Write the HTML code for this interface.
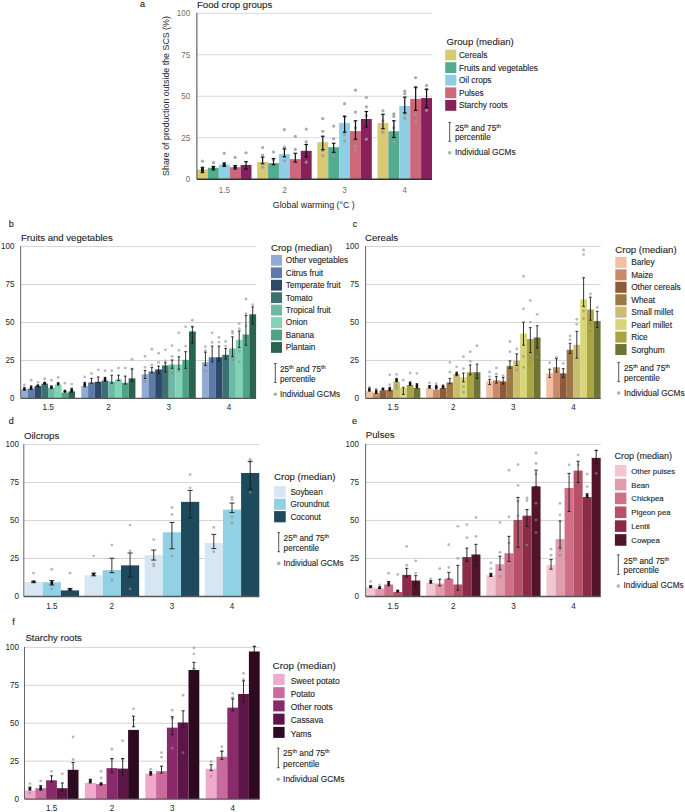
<!DOCTYPE html><html><head><meta charset="utf-8"><style>html,body{margin:0;padding:0;background:#fff;}svg{display:block;}text{font-family:"Liberation Sans",sans-serif;stroke-width:0.12px;}</style></head><body>
<svg width="685" height="812" viewBox="0 0 685 812">
<line x1="196.9" y1="137.72" x2="432" y2="137.72" stroke="#d9d9d9" stroke-width="1"/>
<line x1="196.9" y1="96.25" x2="432" y2="96.25" stroke="#d9d9d9" stroke-width="1"/>
<line x1="196.9" y1="54.78" x2="432" y2="54.78" stroke="#d9d9d9" stroke-width="1"/>
<line x1="196.9" y1="13.3" x2="432" y2="13.3" stroke="#d9d9d9" stroke-width="1"/>
<rect x="197" y="169.58" width="10.9" height="9.62" fill="#D8C974"/>
<rect x="207.9" y="167.75" width="10.9" height="11.45" fill="#52AD8E"/>
<rect x="218.8" y="164.43" width="10.9" height="14.77" fill="#8FCEE5"/>
<rect x="229.7" y="167.26" width="10.9" height="11.94" fill="#CD6779"/>
<rect x="240.6" y="164.93" width="10.9" height="14.27" fill="#88205B"/>
<rect x="257.17" y="161.95" width="10.9" height="17.25" fill="#D8C974"/>
<rect x="268.07" y="163.11" width="10.9" height="16.09" fill="#52AD8E"/>
<rect x="278.97" y="154.15" width="10.9" height="25.05" fill="#8FCEE5"/>
<rect x="289.87" y="159.13" width="10.9" height="20.07" fill="#CD6779"/>
<rect x="300.77" y="150.83" width="10.9" height="28.37" fill="#88205B"/>
<rect x="317.33" y="142.2" width="10.9" height="37" fill="#D8C974"/>
<rect x="328.23" y="147.18" width="10.9" height="32.02" fill="#52AD8E"/>
<rect x="339.13" y="122.96" width="10.9" height="56.24" fill="#8FCEE5"/>
<rect x="350.03" y="131.09" width="10.9" height="48.11" fill="#CD6779"/>
<rect x="360.93" y="118.98" width="10.9" height="60.22" fill="#88205B"/>
<rect x="377.5" y="122.96" width="10.9" height="56.24" fill="#D8C974"/>
<rect x="388.4" y="131.25" width="10.9" height="47.95" fill="#52AD8E"/>
<rect x="399.3" y="105.87" width="10.9" height="73.33" fill="#8FCEE5"/>
<rect x="410.2" y="98.9" width="10.9" height="80.3" fill="#CD6779"/>
<rect x="421.1" y="98.07" width="10.9" height="81.13" fill="#88205B"/>
<circle cx="202.45" cy="161.17" r="1.6" fill="#9a9a9a" fill-opacity="0.85"/>
<circle cx="202.45" cy="169.93" r="1.6" fill="#9a9a9a" fill-opacity="0.85"/>
<circle cx="213.35" cy="162.57" r="1.6" fill="#9a9a9a" fill-opacity="0.85"/>
<circle cx="213.35" cy="168.18" r="1.6" fill="#9a9a9a" fill-opacity="0.85"/>
<circle cx="224.25" cy="153.29" r="1.6" fill="#9a9a9a" fill-opacity="0.85"/>
<circle cx="224.25" cy="164.67" r="1.6" fill="#9a9a9a" fill-opacity="0.85"/>
<circle cx="235.15" cy="157.32" r="1.6" fill="#9a9a9a" fill-opacity="0.85"/>
<circle cx="235.15" cy="167.3" r="1.6" fill="#9a9a9a" fill-opacity="0.85"/>
<circle cx="246.05" cy="152.76" r="1.6" fill="#9a9a9a" fill-opacity="0.85"/>
<line x1="202.45" y1="167.3" x2="202.45" y2="172.56" stroke="#111" stroke-width="1.2"/>
<line x1="200.65" y1="167.3" x2="204.25" y2="167.3" stroke="#111" stroke-width="1.2"/>
<line x1="200.65" y1="172.56" x2="204.25" y2="172.56" stroke="#111" stroke-width="1.2"/>
<line x1="213.35" y1="166.43" x2="213.35" y2="169.93" stroke="#111" stroke-width="1.2"/>
<line x1="211.55" y1="166.43" x2="215.15" y2="166.43" stroke="#111" stroke-width="1.2"/>
<line x1="211.55" y1="169.93" x2="215.15" y2="169.93" stroke="#111" stroke-width="1.2"/>
<line x1="224.25" y1="162.92" x2="224.25" y2="166.43" stroke="#111" stroke-width="1.2"/>
<line x1="222.45" y1="162.92" x2="226.05" y2="162.92" stroke="#111" stroke-width="1.2"/>
<line x1="222.45" y1="166.43" x2="226.05" y2="166.43" stroke="#111" stroke-width="1.2"/>
<line x1="235.15" y1="165.55" x2="235.15" y2="169.05" stroke="#111" stroke-width="1.2"/>
<line x1="233.35" y1="165.55" x2="236.95" y2="165.55" stroke="#111" stroke-width="1.2"/>
<line x1="233.35" y1="169.05" x2="236.95" y2="169.05" stroke="#111" stroke-width="1.2"/>
<line x1="246.05" y1="161.7" x2="246.05" y2="169.05" stroke="#111" stroke-width="1.2"/>
<line x1="244.25" y1="161.7" x2="247.85" y2="161.7" stroke="#111" stroke-width="1.2"/>
<line x1="244.25" y1="169.05" x2="247.85" y2="169.05" stroke="#111" stroke-width="1.2"/>
<circle cx="262.62" cy="147.51" r="1.6" fill="#9a9a9a" fill-opacity="0.85"/>
<circle cx="262.62" cy="155.04" r="1.6" fill="#9a9a9a" fill-opacity="0.85"/>
<circle cx="262.62" cy="167.3" r="1.6" fill="#9a9a9a" fill-opacity="0.85"/>
<circle cx="273.52" cy="152.06" r="1.6" fill="#9a9a9a" fill-opacity="0.85"/>
<circle cx="273.52" cy="159.42" r="1.6" fill="#9a9a9a" fill-opacity="0.85"/>
<circle cx="284.42" cy="129.64" r="1.6" fill="#9a9a9a" fill-opacity="0.85"/>
<circle cx="284.42" cy="147.15" r="1.6" fill="#9a9a9a" fill-opacity="0.85"/>
<circle cx="284.42" cy="160.82" r="1.6" fill="#9a9a9a" fill-opacity="0.85"/>
<circle cx="295.32" cy="136.29" r="1.6" fill="#9a9a9a" fill-opacity="0.85"/>
<circle cx="295.32" cy="149.43" r="1.6" fill="#9a9a9a" fill-opacity="0.85"/>
<circle cx="306.22" cy="129.11" r="1.6" fill="#9a9a9a" fill-opacity="0.85"/>
<circle cx="306.22" cy="141.9" r="1.6" fill="#9a9a9a" fill-opacity="0.85"/>
<circle cx="306.22" cy="162.05" r="1.6" fill="#9a9a9a" fill-opacity="0.85"/>
<line x1="262.62" y1="157.14" x2="262.62" y2="163.8" stroke="#111" stroke-width="1.2"/>
<line x1="260.82" y1="157.14" x2="264.42" y2="157.14" stroke="#111" stroke-width="1.2"/>
<line x1="260.82" y1="163.8" x2="264.42" y2="163.8" stroke="#111" stroke-width="1.2"/>
<line x1="273.52" y1="158.54" x2="273.52" y2="164.67" stroke="#111" stroke-width="1.2"/>
<line x1="271.72" y1="158.54" x2="275.32" y2="158.54" stroke="#111" stroke-width="1.2"/>
<line x1="271.72" y1="164.67" x2="275.32" y2="164.67" stroke="#111" stroke-width="1.2"/>
<line x1="284.42" y1="148.91" x2="284.42" y2="156.79" stroke="#111" stroke-width="1.2"/>
<line x1="282.62" y1="148.91" x2="286.22" y2="148.91" stroke="#111" stroke-width="1.2"/>
<line x1="282.62" y1="156.79" x2="286.22" y2="156.79" stroke="#111" stroke-width="1.2"/>
<line x1="295.32" y1="153.29" x2="295.32" y2="162.05" stroke="#111" stroke-width="1.2"/>
<line x1="293.52" y1="153.29" x2="297.12" y2="153.29" stroke="#111" stroke-width="1.2"/>
<line x1="293.52" y1="162.05" x2="297.12" y2="162.05" stroke="#111" stroke-width="1.2"/>
<line x1="306.22" y1="144.53" x2="306.22" y2="156.79" stroke="#111" stroke-width="1.2"/>
<line x1="304.42" y1="144.53" x2="308.02" y2="144.53" stroke="#111" stroke-width="1.2"/>
<line x1="304.42" y1="156.79" x2="308.02" y2="156.79" stroke="#111" stroke-width="1.2"/>
<circle cx="322.78" cy="118.53" r="1.6" fill="#9a9a9a" fill-opacity="0.85"/>
<circle cx="322.78" cy="131.32" r="1.6" fill="#9a9a9a" fill-opacity="0.85"/>
<circle cx="322.78" cy="150.59" r="1.6" fill="#9a9a9a" fill-opacity="0.85"/>
<circle cx="322.78" cy="155.49" r="1.6" fill="#9a9a9a" fill-opacity="0.85"/>
<circle cx="333.68" cy="126.06" r="1.6" fill="#9a9a9a" fill-opacity="0.85"/>
<circle cx="333.68" cy="138.85" r="1.6" fill="#9a9a9a" fill-opacity="0.85"/>
<circle cx="333.68" cy="155.84" r="1.6" fill="#9a9a9a" fill-opacity="0.85"/>
<circle cx="344.58" cy="103.64" r="1.6" fill="#9a9a9a" fill-opacity="0.85"/>
<circle cx="344.58" cy="116.43" r="1.6" fill="#9a9a9a" fill-opacity="0.85"/>
<circle cx="344.58" cy="134.82" r="1.6" fill="#9a9a9a" fill-opacity="0.85"/>
<circle cx="344.58" cy="140.95" r="1.6" fill="#9a9a9a" fill-opacity="0.85"/>
<circle cx="355.48" cy="90.15" r="1.6" fill="#9a9a9a" fill-opacity="0.85"/>
<circle cx="355.48" cy="112.05" r="1.6" fill="#9a9a9a" fill-opacity="0.85"/>
<circle cx="355.48" cy="127.81" r="1.6" fill="#9a9a9a" fill-opacity="0.85"/>
<circle cx="355.48" cy="146.21" r="1.6" fill="#9a9a9a" fill-opacity="0.85"/>
<circle cx="355.48" cy="150.59" r="1.6" fill="#9a9a9a" fill-opacity="0.85"/>
<circle cx="366.38" cy="97.51" r="1.6" fill="#9a9a9a" fill-opacity="0.85"/>
<circle cx="366.38" cy="106.79" r="1.6" fill="#9a9a9a" fill-opacity="0.85"/>
<circle cx="366.38" cy="115.55" r="1.6" fill="#9a9a9a" fill-opacity="0.85"/>
<circle cx="366.38" cy="139.2" r="1.6" fill="#9a9a9a" fill-opacity="0.85"/>
<line x1="322.78" y1="136.22" x2="322.78" y2="149.71" stroke="#111" stroke-width="1.2"/>
<line x1="320.98" y1="136.22" x2="324.58" y2="136.22" stroke="#111" stroke-width="1.2"/>
<line x1="320.98" y1="149.71" x2="324.58" y2="149.71" stroke="#111" stroke-width="1.2"/>
<line x1="333.68" y1="143.23" x2="333.68" y2="152.34" stroke="#111" stroke-width="1.2"/>
<line x1="331.88" y1="143.23" x2="335.48" y2="143.23" stroke="#111" stroke-width="1.2"/>
<line x1="331.88" y1="152.34" x2="335.48" y2="152.34" stroke="#111" stroke-width="1.2"/>
<line x1="344.58" y1="116.43" x2="344.58" y2="132.19" stroke="#111" stroke-width="1.2"/>
<line x1="342.78" y1="116.43" x2="346.38" y2="116.43" stroke="#111" stroke-width="1.2"/>
<line x1="342.78" y1="132.19" x2="346.38" y2="132.19" stroke="#111" stroke-width="1.2"/>
<line x1="355.48" y1="120.81" x2="355.48" y2="139.2" stroke="#111" stroke-width="1.2"/>
<line x1="353.68" y1="120.81" x2="357.28" y2="120.81" stroke="#111" stroke-width="1.2"/>
<line x1="353.68" y1="139.2" x2="357.28" y2="139.2" stroke="#111" stroke-width="1.2"/>
<line x1="366.38" y1="111.52" x2="366.38" y2="126.94" stroke="#111" stroke-width="1.2"/>
<line x1="364.58" y1="111.52" x2="368.18" y2="111.52" stroke="#111" stroke-width="1.2"/>
<line x1="364.58" y1="126.94" x2="368.18" y2="126.94" stroke="#111" stroke-width="1.2"/>
<circle cx="382.95" cy="110.82" r="1.6" fill="#9a9a9a" fill-opacity="0.85"/>
<circle cx="382.95" cy="120.81" r="1.6" fill="#9a9a9a" fill-opacity="0.85"/>
<circle cx="382.95" cy="132.19" r="1.6" fill="#9a9a9a" fill-opacity="0.85"/>
<circle cx="393.85" cy="113.8" r="1.6" fill="#9a9a9a" fill-opacity="0.85"/>
<circle cx="393.85" cy="116.43" r="1.6" fill="#9a9a9a" fill-opacity="0.85"/>
<circle cx="393.85" cy="127.81" r="1.6" fill="#9a9a9a" fill-opacity="0.85"/>
<circle cx="393.85" cy="141.83" r="1.6" fill="#9a9a9a" fill-opacity="0.85"/>
<circle cx="404.75" cy="91.02" r="1.6" fill="#9a9a9a" fill-opacity="0.85"/>
<circle cx="404.75" cy="93.65" r="1.6" fill="#9a9a9a" fill-opacity="0.85"/>
<circle cx="404.75" cy="113.8" r="1.6" fill="#9a9a9a" fill-opacity="0.85"/>
<circle cx="404.75" cy="118.18" r="1.6" fill="#9a9a9a" fill-opacity="0.85"/>
<circle cx="415.65" cy="77.53" r="1.6" fill="#9a9a9a" fill-opacity="0.85"/>
<circle cx="415.65" cy="87.52" r="1.6" fill="#9a9a9a" fill-opacity="0.85"/>
<circle cx="415.65" cy="114.67" r="1.6" fill="#9a9a9a" fill-opacity="0.85"/>
<circle cx="415.65" cy="121.68" r="1.6" fill="#9a9a9a" fill-opacity="0.85"/>
<circle cx="426.55" cy="85.42" r="1.6" fill="#9a9a9a" fill-opacity="0.85"/>
<circle cx="426.55" cy="89.27" r="1.6" fill="#9a9a9a" fill-opacity="0.85"/>
<circle cx="426.55" cy="110.29" r="1.6" fill="#9a9a9a" fill-opacity="0.85"/>
<line x1="382.95" y1="114.32" x2="382.95" y2="128.69" stroke="#111" stroke-width="1.2"/>
<line x1="381.15" y1="114.32" x2="384.75" y2="114.32" stroke="#111" stroke-width="1.2"/>
<line x1="381.15" y1="128.69" x2="384.75" y2="128.69" stroke="#111" stroke-width="1.2"/>
<line x1="393.85" y1="120.81" x2="393.85" y2="137.45" stroke="#111" stroke-width="1.2"/>
<line x1="392.05" y1="120.81" x2="395.65" y2="120.81" stroke="#111" stroke-width="1.2"/>
<line x1="392.05" y1="137.45" x2="395.65" y2="137.45" stroke="#111" stroke-width="1.2"/>
<line x1="404.75" y1="97.15" x2="404.75" y2="112.92" stroke="#111" stroke-width="1.2"/>
<line x1="402.95" y1="97.15" x2="406.55" y2="97.15" stroke="#111" stroke-width="1.2"/>
<line x1="402.95" y1="112.92" x2="406.55" y2="112.92" stroke="#111" stroke-width="1.2"/>
<line x1="415.65" y1="87.17" x2="415.65" y2="110.29" stroke="#111" stroke-width="1.2"/>
<line x1="413.85" y1="87.17" x2="417.45" y2="87.17" stroke="#111" stroke-width="1.2"/>
<line x1="413.85" y1="110.29" x2="417.45" y2="110.29" stroke="#111" stroke-width="1.2"/>
<line x1="426.55" y1="89.27" x2="426.55" y2="107.67" stroke="#111" stroke-width="1.2"/>
<line x1="424.75" y1="89.27" x2="428.35" y2="89.27" stroke="#111" stroke-width="1.2"/>
<line x1="424.75" y1="107.67" x2="428.35" y2="107.67" stroke="#111" stroke-width="1.2"/>
<line x1="196.9" y1="12.8" x2="196.9" y2="179.2" stroke="#444" stroke-width="1"/>
<line x1="196.9" y1="179.2" x2="432" y2="179.2" stroke="#333" stroke-width="1.5"/>
<text transform="translate(190.2 182.2) scale(0.9 1)" font-size="9" fill="#707070" text-anchor="end">0</text>
<text transform="translate(190.2 140.72) scale(0.9 1)" font-size="9" fill="#707070" text-anchor="end">25</text>
<text transform="translate(190.2 99.25) scale(0.9 1)" font-size="9" fill="#707070" text-anchor="end">50</text>
<text transform="translate(190.2 57.78) scale(0.9 1)" font-size="9" fill="#707070" text-anchor="end">75</text>
<text transform="translate(190.2 16.3) scale(0.9 1)" font-size="9" fill="#707070" text-anchor="end">100</text>
<text transform="translate(224.25 192.6) scale(0.9 1)" font-size="9" fill="#707070" text-anchor="middle">1.5</text>
<text transform="translate(284.42 192.6) scale(0.9 1)" font-size="9" fill="#707070" text-anchor="middle">2</text>
<text transform="translate(344.58 192.6) scale(0.9 1)" font-size="9" fill="#707070" text-anchor="middle">3</text>
<text transform="translate(404.75 192.6) scale(0.9 1)" font-size="9" fill="#707070" text-anchor="middle">4</text>
<text x="140" y="6.5" font-size="9" fill="#222" stroke="#222" text-anchor="start">a</text>
<text x="197" y="7.6" font-size="9.6" fill="#262626" stroke="#262626" text-anchor="start">Food crop groups</text>
<text x="446.6" y="45.4" font-size="9.6" fill="#262626" stroke="#262626" text-anchor="start">Group (median)</text>
<rect x="445.2" y="49.6" width="11.1" height="10.8" fill="#D8C974"/>
<text x="458.9" y="58" font-size="8.27" fill="#262626" stroke="#262626" text-anchor="start">Cereals</text>
<rect x="445.2" y="62.2" width="11.1" height="10.8" fill="#52AD8E"/>
<text x="458.9" y="70.6" font-size="8.27" fill="#262626" stroke="#262626" text-anchor="start">Fruits and vegetables</text>
<rect x="445.2" y="74.8" width="11.1" height="10.8" fill="#8FCEE5"/>
<text x="458.9" y="83.2" font-size="8.27" fill="#262626" stroke="#262626" text-anchor="start">Oil crops</text>
<rect x="445.2" y="87.4" width="11.1" height="10.8" fill="#CD6779"/>
<text x="458.9" y="95.8" font-size="8.27" fill="#262626" stroke="#262626" text-anchor="start">Pulses</text>
<rect x="445.2" y="100" width="11.1" height="10.8" fill="#88205B"/>
<text x="458.9" y="108.4" font-size="8.27" fill="#262626" stroke="#262626" text-anchor="start">Starchy roots</text>
<line x1="449.7" y1="122.5" x2="449.7" y2="141.3" stroke="#555" stroke-width="1"/>
<line x1="448.4" y1="122.5" x2="451" y2="122.5" stroke="#555" stroke-width="1"/>
<line x1="448.4" y1="141.3" x2="451" y2="141.3" stroke="#555" stroke-width="1"/>
<text x="454.9" y="130.7" font-size="8.27" fill="#262626" stroke="#262626">25<tspan font-size="5.46" dy="-3.2">th</tspan><tspan dy="3.2"> and 75</tspan><tspan font-size="5.46" dy="-3.2">th</tspan></text>
<text x="454.9" y="140.2" font-size="8.27" fill="#262626" stroke="#262626" text-anchor="start">percentile</text>
<circle cx="449.7" cy="152.8" r="1.8" fill="#b0b0b0"/>
<text x="454.9" y="155.2" font-size="8.27" fill="#262626" stroke="#262626" text-anchor="start">Individual GCMs</text>
<line x1="20.7" y1="360.45" x2="256.1" y2="360.45" stroke="#d4d4d4" stroke-width="1"/>
<line x1="20.7" y1="322.5" x2="256.1" y2="322.5" stroke="#d4d4d4" stroke-width="1"/>
<line x1="20.7" y1="284.55" x2="256.1" y2="284.55" stroke="#d4d4d4" stroke-width="1"/>
<line x1="20.7" y1="246.6" x2="256.1" y2="246.6" stroke="#d4d4d4" stroke-width="1"/>
<rect x="21" y="389.14" width="6.76" height="9.26" fill="#91ABD6"/>
<rect x="27.76" y="388.53" width="6.76" height="9.87" fill="#5E7BA8"/>
<rect x="34.52" y="386.1" width="6.76" height="12.3" fill="#2D4A6A"/>
<rect x="41.28" y="383.68" width="6.76" height="14.72" fill="#3D7070"/>
<rect x="48.04" y="387.77" width="6.76" height="10.63" fill="#6CB9A5"/>
<rect x="54.8" y="384.59" width="6.76" height="13.81" fill="#80D4B4"/>
<rect x="61.56" y="392.63" width="6.76" height="5.77" fill="#4FA286"/>
<rect x="68.32" y="391.42" width="6.76" height="6.98" fill="#2A6450"/>
<rect x="81.34" y="385.95" width="6.76" height="12.45" fill="#91ABD6"/>
<rect x="88.1" y="382.46" width="6.76" height="15.94" fill="#5E7BA8"/>
<rect x="94.86" y="381.85" width="6.76" height="16.55" fill="#2D4A6A"/>
<rect x="101.62" y="380.64" width="6.76" height="17.76" fill="#3D7070"/>
<rect x="108.38" y="381.55" width="6.76" height="16.85" fill="#6CB9A5"/>
<rect x="115.14" y="379.27" width="6.76" height="19.13" fill="#80D4B4"/>
<rect x="121.9" y="382.76" width="6.76" height="15.64" fill="#4FA286"/>
<rect x="128.66" y="378.36" width="6.76" height="20.04" fill="#2A6450"/>
<rect x="141.68" y="374.26" width="6.76" height="24.14" fill="#91ABD6"/>
<rect x="148.44" y="371.53" width="6.76" height="26.87" fill="#5E7BA8"/>
<rect x="155.2" y="369.41" width="6.76" height="28.99" fill="#2D4A6A"/>
<rect x="161.96" y="365.46" width="6.76" height="32.94" fill="#3D7070"/>
<rect x="168.72" y="364.55" width="6.76" height="33.85" fill="#6CB9A5"/>
<rect x="175.48" y="364.55" width="6.76" height="33.85" fill="#80D4B4"/>
<rect x="182.24" y="359.84" width="6.76" height="38.56" fill="#4FA286"/>
<rect x="189" y="331.46" width="6.76" height="66.94" fill="#2A6450"/>
<rect x="202.02" y="362.27" width="6.76" height="36.13" fill="#91ABD6"/>
<rect x="208.78" y="357.26" width="6.76" height="41.14" fill="#5E7BA8"/>
<rect x="215.54" y="357.26" width="6.76" height="41.14" fill="#2D4A6A"/>
<rect x="222.3" y="354.83" width="6.76" height="43.57" fill="#3D7070"/>
<rect x="229.06" y="348.46" width="6.76" height="49.94" fill="#6CB9A5"/>
<rect x="235.82" y="339.81" width="6.76" height="58.59" fill="#80D4B4"/>
<rect x="242.58" y="334.49" width="6.76" height="63.91" fill="#4FA286"/>
<rect x="249.34" y="314.3" width="6.76" height="84.1" fill="#2A6450"/>
<circle cx="24.38" cy="385" r="1.4" fill="#8a8a8a" fill-opacity="0.6"/>
<circle cx="31.14" cy="380.2" r="1.4" fill="#8a8a8a" fill-opacity="0.6"/>
<circle cx="37.9" cy="382.33" r="1.4" fill="#8a8a8a" fill-opacity="0.6"/>
<circle cx="44.66" cy="378.77" r="1.4" fill="#8a8a8a" fill-opacity="0.6"/>
<circle cx="51.42" cy="380.2" r="1.4" fill="#8a8a8a" fill-opacity="0.6"/>
<circle cx="58.18" cy="377.52" r="1.4" fill="#8a8a8a" fill-opacity="0.6"/>
<circle cx="64.94" cy="383.22" r="1.4" fill="#8a8a8a" fill-opacity="0.6"/>
<circle cx="71.7" cy="384.11" r="1.4" fill="#8a8a8a" fill-opacity="0.6"/>
<line x1="24.38" y1="387.68" x2="24.38" y2="390.35" stroke="#1a1a1a" stroke-width="0.9"/>
<line x1="23.08" y1="387.68" x2="25.68" y2="387.68" stroke="#1a1a1a" stroke-width="0.9"/>
<line x1="23.08" y1="390.35" x2="25.68" y2="390.35" stroke="#1a1a1a" stroke-width="0.9"/>
<ellipse cx="24.38" cy="389.01" rx="1.4" ry="1.4" fill="#111"/>
<line x1="31.14" y1="385.89" x2="31.14" y2="389.46" stroke="#1a1a1a" stroke-width="0.9"/>
<line x1="29.84" y1="385.89" x2="32.44" y2="385.89" stroke="#1a1a1a" stroke-width="0.9"/>
<line x1="29.84" y1="389.46" x2="32.44" y2="389.46" stroke="#1a1a1a" stroke-width="0.9"/>
<ellipse cx="31.14" cy="387.68" rx="1.4" ry="1.78" fill="#111"/>
<line x1="37.9" y1="385" x2="37.9" y2="386.79" stroke="#1a1a1a" stroke-width="0.9"/>
<line x1="36.6" y1="385" x2="39.2" y2="385" stroke="#1a1a1a" stroke-width="0.9"/>
<line x1="36.6" y1="386.79" x2="39.2" y2="386.79" stroke="#1a1a1a" stroke-width="0.9"/>
<ellipse cx="37.9" cy="385.89" rx="1.4" ry="1.4" fill="#111"/>
<line x1="44.66" y1="382.33" x2="44.66" y2="384.11" stroke="#1a1a1a" stroke-width="0.9"/>
<line x1="43.36" y1="382.33" x2="45.96" y2="382.33" stroke="#1a1a1a" stroke-width="0.9"/>
<line x1="43.36" y1="384.11" x2="45.96" y2="384.11" stroke="#1a1a1a" stroke-width="0.9"/>
<ellipse cx="44.66" cy="383.22" rx="1.4" ry="1.4" fill="#111"/>
<line x1="51.42" y1="385.89" x2="51.42" y2="388.57" stroke="#1a1a1a" stroke-width="0.9"/>
<line x1="50.12" y1="385.89" x2="52.72" y2="385.89" stroke="#1a1a1a" stroke-width="0.9"/>
<line x1="50.12" y1="388.57" x2="52.72" y2="388.57" stroke="#1a1a1a" stroke-width="0.9"/>
<ellipse cx="51.42" cy="387.23" rx="1.4" ry="1.4" fill="#111"/>
<line x1="58.18" y1="382.69" x2="58.18" y2="385" stroke="#1a1a1a" stroke-width="0.9"/>
<line x1="56.88" y1="382.69" x2="59.48" y2="382.69" stroke="#1a1a1a" stroke-width="0.9"/>
<line x1="56.88" y1="385" x2="59.48" y2="385" stroke="#1a1a1a" stroke-width="0.9"/>
<ellipse cx="58.18" cy="383.85" rx="1.4" ry="1.4" fill="#111"/>
<line x1="64.94" y1="390.35" x2="64.94" y2="392.13" stroke="#1a1a1a" stroke-width="0.9"/>
<line x1="63.64" y1="390.35" x2="66.24" y2="390.35" stroke="#1a1a1a" stroke-width="0.9"/>
<line x1="63.64" y1="392.13" x2="66.24" y2="392.13" stroke="#1a1a1a" stroke-width="0.9"/>
<ellipse cx="64.94" cy="391.24" rx="1.4" ry="1.4" fill="#111"/>
<line x1="71.7" y1="388.21" x2="71.7" y2="392.13" stroke="#1a1a1a" stroke-width="0.9"/>
<line x1="70.4" y1="388.21" x2="73" y2="388.21" stroke="#1a1a1a" stroke-width="0.9"/>
<line x1="70.4" y1="392.13" x2="73" y2="392.13" stroke="#1a1a1a" stroke-width="0.9"/>
<ellipse cx="71.7" cy="390.17" rx="1.4" ry="1.96" fill="#111"/>
<circle cx="84.72" cy="376.99" r="1.4" fill="#8a8a8a" fill-opacity="0.6"/>
<circle cx="91.48" cy="373.43" r="1.4" fill="#8a8a8a" fill-opacity="0.6"/>
<circle cx="98.24" cy="369.87" r="1.4" fill="#8a8a8a" fill-opacity="0.6"/>
<circle cx="105" cy="370.76" r="1.4" fill="#8a8a8a" fill-opacity="0.6"/>
<circle cx="111.76" cy="370.76" r="1.4" fill="#8a8a8a" fill-opacity="0.6"/>
<circle cx="118.52" cy="368.09" r="1.4" fill="#8a8a8a" fill-opacity="0.6"/>
<circle cx="125.28" cy="368.09" r="1.4" fill="#8a8a8a" fill-opacity="0.6"/>
<circle cx="132.04" cy="359.18" r="1.4" fill="#8a8a8a" fill-opacity="0.6"/>
<circle cx="132.04" cy="368.98" r="1.4" fill="#8a8a8a" fill-opacity="0.6"/>
<line x1="84.72" y1="382.33" x2="84.72" y2="386.79" stroke="#1a1a1a" stroke-width="0.9"/>
<line x1="83.42" y1="382.33" x2="86.02" y2="382.33" stroke="#1a1a1a" stroke-width="0.9"/>
<line x1="83.42" y1="386.79" x2="86.02" y2="386.79" stroke="#1a1a1a" stroke-width="0.9"/>
<ellipse cx="84.72" cy="384.56" rx="1.4" ry="2.23" fill="#111"/>
<line x1="91.48" y1="378.41" x2="91.48" y2="383.22" stroke="#1a1a1a" stroke-width="0.9"/>
<line x1="90.18" y1="378.41" x2="92.78" y2="378.41" stroke="#1a1a1a" stroke-width="0.9"/>
<line x1="90.18" y1="383.22" x2="92.78" y2="383.22" stroke="#1a1a1a" stroke-width="0.9"/>
<line x1="98.24" y1="376.99" x2="98.24" y2="382.33" stroke="#1a1a1a" stroke-width="0.9"/>
<line x1="96.94" y1="376.99" x2="99.54" y2="376.99" stroke="#1a1a1a" stroke-width="0.9"/>
<line x1="96.94" y1="382.33" x2="99.54" y2="382.33" stroke="#1a1a1a" stroke-width="0.9"/>
<line x1="105" y1="377.35" x2="105" y2="381.44" stroke="#1a1a1a" stroke-width="0.9"/>
<line x1="103.7" y1="377.35" x2="106.3" y2="377.35" stroke="#1a1a1a" stroke-width="0.9"/>
<line x1="103.7" y1="381.44" x2="106.3" y2="381.44" stroke="#1a1a1a" stroke-width="0.9"/>
<ellipse cx="105" cy="379.39" rx="1.4" ry="2.05" fill="#111"/>
<line x1="111.76" y1="375.21" x2="111.76" y2="383.22" stroke="#1a1a1a" stroke-width="0.9"/>
<line x1="110.46" y1="375.21" x2="113.06" y2="375.21" stroke="#1a1a1a" stroke-width="0.9"/>
<line x1="110.46" y1="383.22" x2="113.06" y2="383.22" stroke="#1a1a1a" stroke-width="0.9"/>
<line x1="118.52" y1="375.21" x2="118.52" y2="380.55" stroke="#1a1a1a" stroke-width="0.9"/>
<line x1="117.22" y1="375.21" x2="119.82" y2="375.21" stroke="#1a1a1a" stroke-width="0.9"/>
<line x1="117.22" y1="380.55" x2="119.82" y2="380.55" stroke="#1a1a1a" stroke-width="0.9"/>
<line x1="125.28" y1="376.1" x2="125.28" y2="384.11" stroke="#1a1a1a" stroke-width="0.9"/>
<line x1="123.98" y1="376.1" x2="126.58" y2="376.1" stroke="#1a1a1a" stroke-width="0.9"/>
<line x1="123.98" y1="384.11" x2="126.58" y2="384.11" stroke="#1a1a1a" stroke-width="0.9"/>
<line x1="132.04" y1="368.98" x2="132.04" y2="381.44" stroke="#1a1a1a" stroke-width="0.9"/>
<line x1="130.74" y1="368.98" x2="133.34" y2="368.98" stroke="#1a1a1a" stroke-width="0.9"/>
<line x1="130.74" y1="381.44" x2="133.34" y2="381.44" stroke="#1a1a1a" stroke-width="0.9"/>
<circle cx="145.06" cy="356.28" r="1.4" fill="#8a8a8a" fill-opacity="0.6"/>
<circle cx="145.06" cy="367.38" r="1.4" fill="#8a8a8a" fill-opacity="0.6"/>
<circle cx="145.06" cy="381.24" r="1.4" fill="#8a8a8a" fill-opacity="0.6"/>
<circle cx="151.82" cy="349.26" r="1.4" fill="#8a8a8a" fill-opacity="0.6"/>
<circle cx="151.82" cy="364.97" r="1.4" fill="#8a8a8a" fill-opacity="0.6"/>
<circle cx="158.58" cy="353.14" r="1.4" fill="#8a8a8a" fill-opacity="0.6"/>
<circle cx="158.58" cy="362.38" r="1.4" fill="#8a8a8a" fill-opacity="0.6"/>
<circle cx="165.34" cy="349.82" r="1.4" fill="#8a8a8a" fill-opacity="0.6"/>
<circle cx="165.34" cy="360.91" r="1.4" fill="#8a8a8a" fill-opacity="0.6"/>
<circle cx="172.1" cy="345.56" r="1.4" fill="#8a8a8a" fill-opacity="0.6"/>
<circle cx="172.1" cy="356.28" r="1.4" fill="#8a8a8a" fill-opacity="0.6"/>
<circle cx="172.1" cy="372.92" r="1.4" fill="#8a8a8a" fill-opacity="0.6"/>
<circle cx="178.86" cy="332.81" r="1.4" fill="#8a8a8a" fill-opacity="0.6"/>
<circle cx="178.86" cy="350.37" r="1.4" fill="#8a8a8a" fill-opacity="0.6"/>
<circle cx="178.86" cy="371.07" r="1.4" fill="#8a8a8a" fill-opacity="0.6"/>
<circle cx="185.62" cy="326.71" r="1.4" fill="#8a8a8a" fill-opacity="0.6"/>
<circle cx="185.62" cy="346.12" r="1.4" fill="#8a8a8a" fill-opacity="0.6"/>
<circle cx="185.62" cy="373.84" r="1.4" fill="#8a8a8a" fill-opacity="0.6"/>
<circle cx="192.38" cy="320.24" r="1.4" fill="#8a8a8a" fill-opacity="0.6"/>
<circle cx="192.38" cy="326.71" r="1.4" fill="#8a8a8a" fill-opacity="0.6"/>
<line x1="145.06" y1="370.52" x2="145.06" y2="378.47" stroke="#1a1a1a" stroke-width="0.9"/>
<line x1="143.76" y1="370.52" x2="146.36" y2="370.52" stroke="#1a1a1a" stroke-width="0.9"/>
<line x1="143.76" y1="378.47" x2="146.36" y2="378.47" stroke="#1a1a1a" stroke-width="0.9"/>
<line x1="151.82" y1="367.38" x2="151.82" y2="372.92" stroke="#1a1a1a" stroke-width="0.9"/>
<line x1="150.52" y1="367.38" x2="153.12" y2="367.38" stroke="#1a1a1a" stroke-width="0.9"/>
<line x1="150.52" y1="372.92" x2="153.12" y2="372.92" stroke="#1a1a1a" stroke-width="0.9"/>
<line x1="158.58" y1="366.08" x2="158.58" y2="373.48" stroke="#1a1a1a" stroke-width="0.9"/>
<line x1="157.28" y1="366.08" x2="159.88" y2="366.08" stroke="#1a1a1a" stroke-width="0.9"/>
<line x1="157.28" y1="373.48" x2="159.88" y2="373.48" stroke="#1a1a1a" stroke-width="0.9"/>
<line x1="165.34" y1="362.75" x2="165.34" y2="372" stroke="#1a1a1a" stroke-width="0.9"/>
<line x1="164.04" y1="362.75" x2="166.64" y2="362.75" stroke="#1a1a1a" stroke-width="0.9"/>
<line x1="164.04" y1="372" x2="166.64" y2="372" stroke="#1a1a1a" stroke-width="0.9"/>
<line x1="172.1" y1="359.98" x2="172.1" y2="368.3" stroke="#1a1a1a" stroke-width="0.9"/>
<line x1="170.8" y1="359.98" x2="173.4" y2="359.98" stroke="#1a1a1a" stroke-width="0.9"/>
<line x1="170.8" y1="368.3" x2="173.4" y2="368.3" stroke="#1a1a1a" stroke-width="0.9"/>
<line x1="178.86" y1="356.84" x2="178.86" y2="369.22" stroke="#1a1a1a" stroke-width="0.9"/>
<line x1="177.56" y1="356.84" x2="180.16" y2="356.84" stroke="#1a1a1a" stroke-width="0.9"/>
<line x1="177.56" y1="369.22" x2="180.16" y2="369.22" stroke="#1a1a1a" stroke-width="0.9"/>
<line x1="185.62" y1="351.66" x2="185.62" y2="368.3" stroke="#1a1a1a" stroke-width="0.9"/>
<line x1="184.32" y1="351.66" x2="186.92" y2="351.66" stroke="#1a1a1a" stroke-width="0.9"/>
<line x1="184.32" y1="368.3" x2="186.92" y2="368.3" stroke="#1a1a1a" stroke-width="0.9"/>
<line x1="192.38" y1="326.71" x2="192.38" y2="343.35" stroke="#1a1a1a" stroke-width="0.9"/>
<line x1="191.08" y1="326.71" x2="193.68" y2="326.71" stroke="#1a1a1a" stroke-width="0.9"/>
<line x1="191.08" y1="343.35" x2="193.68" y2="343.35" stroke="#1a1a1a" stroke-width="0.9"/>
<circle cx="205.4" cy="346.67" r="1.4" fill="#8a8a8a" fill-opacity="0.6"/>
<circle cx="205.4" cy="350.74" r="1.4" fill="#8a8a8a" fill-opacity="0.6"/>
<circle cx="205.4" cy="371.07" r="1.4" fill="#8a8a8a" fill-opacity="0.6"/>
<circle cx="212.16" cy="332.81" r="1.4" fill="#8a8a8a" fill-opacity="0.6"/>
<circle cx="212.16" cy="342.42" r="1.4" fill="#8a8a8a" fill-opacity="0.6"/>
<circle cx="218.92" cy="337.43" r="1.4" fill="#8a8a8a" fill-opacity="0.6"/>
<circle cx="218.92" cy="342.05" r="1.4" fill="#8a8a8a" fill-opacity="0.6"/>
<circle cx="225.68" cy="341.5" r="1.4" fill="#8a8a8a" fill-opacity="0.6"/>
<circle cx="225.68" cy="346.12" r="1.4" fill="#8a8a8a" fill-opacity="0.6"/>
<circle cx="232.44" cy="331.33" r="1.4" fill="#8a8a8a" fill-opacity="0.6"/>
<circle cx="232.44" cy="333.18" r="1.4" fill="#8a8a8a" fill-opacity="0.6"/>
<circle cx="232.44" cy="360.35" r="1.4" fill="#8a8a8a" fill-opacity="0.6"/>
<circle cx="239.2" cy="323.57" r="1.4" fill="#8a8a8a" fill-opacity="0.6"/>
<circle cx="239.2" cy="328.56" r="1.4" fill="#8a8a8a" fill-opacity="0.6"/>
<circle cx="239.2" cy="351.29" r="1.4" fill="#8a8a8a" fill-opacity="0.6"/>
<circle cx="239.2" cy="361.83" r="1.4" fill="#8a8a8a" fill-opacity="0.6"/>
<circle cx="245.96" cy="298.98" r="1.4" fill="#8a8a8a" fill-opacity="0.6"/>
<circle cx="245.96" cy="313.77" r="1.4" fill="#8a8a8a" fill-opacity="0.6"/>
<circle cx="245.96" cy="325.79" r="1.4" fill="#8a8a8a" fill-opacity="0.6"/>
<circle cx="252.72" cy="304.53" r="1.4" fill="#8a8a8a" fill-opacity="0.6"/>
<line x1="205.4" y1="352.22" x2="205.4" y2="365.53" stroke="#1a1a1a" stroke-width="0.9"/>
<line x1="204.1" y1="352.22" x2="206.7" y2="352.22" stroke="#1a1a1a" stroke-width="0.9"/>
<line x1="204.1" y1="365.53" x2="206.7" y2="365.53" stroke="#1a1a1a" stroke-width="0.9"/>
<line x1="212.16" y1="346.12" x2="212.16" y2="361.83" stroke="#1a1a1a" stroke-width="0.9"/>
<line x1="210.86" y1="346.12" x2="213.46" y2="346.12" stroke="#1a1a1a" stroke-width="0.9"/>
<line x1="210.86" y1="361.83" x2="213.46" y2="361.83" stroke="#1a1a1a" stroke-width="0.9"/>
<line x1="218.92" y1="346.12" x2="218.92" y2="360.91" stroke="#1a1a1a" stroke-width="0.9"/>
<line x1="217.62" y1="346.12" x2="220.22" y2="346.12" stroke="#1a1a1a" stroke-width="0.9"/>
<line x1="217.62" y1="360.91" x2="220.22" y2="360.91" stroke="#1a1a1a" stroke-width="0.9"/>
<line x1="225.68" y1="348.52" x2="225.68" y2="359.06" stroke="#1a1a1a" stroke-width="0.9"/>
<line x1="224.38" y1="348.52" x2="226.98" y2="348.52" stroke="#1a1a1a" stroke-width="0.9"/>
<line x1="224.38" y1="359.06" x2="226.98" y2="359.06" stroke="#1a1a1a" stroke-width="0.9"/>
<line x1="232.44" y1="336.88" x2="232.44" y2="356.84" stroke="#1a1a1a" stroke-width="0.9"/>
<line x1="231.14" y1="336.88" x2="233.74" y2="336.88" stroke="#1a1a1a" stroke-width="0.9"/>
<line x1="231.14" y1="356.84" x2="233.74" y2="356.84" stroke="#1a1a1a" stroke-width="0.9"/>
<line x1="239.2" y1="330.96" x2="239.2" y2="347.6" stroke="#1a1a1a" stroke-width="0.9"/>
<line x1="237.9" y1="330.96" x2="240.5" y2="330.96" stroke="#1a1a1a" stroke-width="0.9"/>
<line x1="237.9" y1="347.6" x2="240.5" y2="347.6" stroke="#1a1a1a" stroke-width="0.9"/>
<line x1="245.96" y1="315.62" x2="245.96" y2="345.19" stroke="#1a1a1a" stroke-width="0.9"/>
<line x1="244.66" y1="315.62" x2="247.26" y2="315.62" stroke="#1a1a1a" stroke-width="0.9"/>
<line x1="244.66" y1="345.19" x2="247.26" y2="345.19" stroke="#1a1a1a" stroke-width="0.9"/>
<line x1="252.72" y1="306.93" x2="252.72" y2="323.94" stroke="#1a1a1a" stroke-width="0.9"/>
<line x1="251.42" y1="306.93" x2="254.02" y2="306.93" stroke="#1a1a1a" stroke-width="0.9"/>
<line x1="251.42" y1="323.94" x2="254.02" y2="323.94" stroke="#1a1a1a" stroke-width="0.9"/>
<line x1="20.7" y1="246.1" x2="20.7" y2="398.4" stroke="#666" stroke-width="1"/>
<line x1="20.7" y1="398.4" x2="256.1" y2="398.4" stroke="#555" stroke-width="1.3"/>
<text transform="translate(14.4 400.9) scale(0.9 1)" font-size="9" fill="#262626" text-anchor="end">0</text>
<text transform="translate(14.4 362.95) scale(0.9 1)" font-size="9" fill="#262626" text-anchor="end">25</text>
<text transform="translate(14.4 325) scale(0.9 1)" font-size="9" fill="#262626" text-anchor="end">50</text>
<text transform="translate(14.4 287.05) scale(0.9 1)" font-size="9" fill="#262626" text-anchor="end">75</text>
<text transform="translate(14.4 249.1) scale(0.9 1)" font-size="9" fill="#262626" text-anchor="end">100</text>
<text transform="translate(48.04 410.4) scale(0.9 1)" font-size="9" fill="#262626" text-anchor="middle">1.5</text>
<text transform="translate(108.38 410.4) scale(0.9 1)" font-size="9" fill="#262626" text-anchor="middle">2</text>
<text transform="translate(168.72 410.4) scale(0.9 1)" font-size="9" fill="#262626" text-anchor="middle">3</text>
<text transform="translate(229.06 410.4) scale(0.9 1)" font-size="9" fill="#262626" text-anchor="middle">4</text>
<text x="8.8" y="226.9" font-size="9" fill="#222" stroke="#222" text-anchor="start">b</text>
<text x="21" y="240.9" font-size="9.6" fill="#262626" stroke="#262626" text-anchor="start">Fruits and vegetables</text>
<text x="271" y="251.4" font-size="9.6" fill="#262626" stroke="#262626" text-anchor="start">Crop (median)</text>
<rect x="271" y="254.9" width="11" height="10.8" fill="#91ABD6"/>
<text x="285.8" y="263.2" font-size="8.2" fill="#262626" stroke="#262626" text-anchor="start">Other vegetables</text>
<rect x="271" y="267.35" width="11" height="10.8" fill="#5E7BA8"/>
<text x="285.8" y="275.65" font-size="8.2" fill="#262626" stroke="#262626" text-anchor="start">Citrus fruit</text>
<rect x="271" y="279.8" width="11" height="10.8" fill="#2D4A6A"/>
<text x="285.8" y="288.1" font-size="8.2" fill="#262626" stroke="#262626" text-anchor="start">Temperate fruit</text>
<rect x="271" y="292.25" width="11" height="10.8" fill="#3D7070"/>
<text x="285.8" y="300.55" font-size="8.2" fill="#262626" stroke="#262626" text-anchor="start">Tomato</text>
<rect x="271" y="304.7" width="11" height="10.8" fill="#6CB9A5"/>
<text x="285.8" y="313" font-size="8.2" fill="#262626" stroke="#262626" text-anchor="start">Tropical fruit</text>
<rect x="271" y="317.15" width="11" height="10.8" fill="#80D4B4"/>
<text x="285.8" y="325.45" font-size="8.2" fill="#262626" stroke="#262626" text-anchor="start">Onion</text>
<rect x="271" y="329.6" width="11" height="10.8" fill="#4FA286"/>
<text x="285.8" y="337.9" font-size="8.2" fill="#262626" stroke="#262626" text-anchor="start">Banana</text>
<rect x="271" y="342.05" width="11" height="10.8" fill="#2A6450"/>
<text x="285.8" y="350.35" font-size="8.2" fill="#262626" stroke="#262626" text-anchor="start">Plantain</text>
<line x1="275.3" y1="363.5" x2="275.3" y2="382.6" stroke="#555" stroke-width="1"/>
<line x1="274" y1="363.5" x2="276.6" y2="363.5" stroke="#555" stroke-width="1"/>
<line x1="274" y1="382.6" x2="276.6" y2="382.6" stroke="#555" stroke-width="1"/>
<text x="280" y="371.7" font-size="8.2" fill="#262626" stroke="#262626">25<tspan font-size="5.41" dy="-3.2">th</tspan><tspan dy="3.2"> and 75</tspan><tspan font-size="5.41" dy="-3.2">th</tspan></text>
<text x="280" y="381.5" font-size="8.2" fill="#262626" stroke="#262626" text-anchor="start">percentile</text>
<circle cx="275.3" cy="394.3" r="1.8" fill="#b0b0b0"/>
<text x="280" y="396.6" font-size="8.2" fill="#262626" stroke="#262626" text-anchor="start">Individual GCMs</text>
<line x1="365.6" y1="360.42" x2="600.6" y2="360.42" stroke="#d4d4d4" stroke-width="1"/>
<line x1="365.6" y1="322.45" x2="600.6" y2="322.45" stroke="#d4d4d4" stroke-width="1"/>
<line x1="365.6" y1="284.48" x2="600.6" y2="284.48" stroke="#d4d4d4" stroke-width="1"/>
<line x1="365.6" y1="246.5" x2="600.6" y2="246.5" stroke="#d4d4d4" stroke-width="1"/>
<rect x="366" y="391.26" width="6.79" height="7.14" fill="#F0C0A0"/>
<rect x="372.79" y="392.78" width="6.79" height="5.62" fill="#C98A6A"/>
<rect x="379.58" y="390.35" width="6.79" height="8.05" fill="#8E5A3A"/>
<rect x="386.37" y="389.74" width="6.79" height="8.66" fill="#9C7848"/>
<rect x="393.16" y="381.54" width="6.79" height="16.86" fill="#C9BE6E"/>
<rect x="399.95" y="387.92" width="6.79" height="10.48" fill="#D8D67A"/>
<rect x="406.74" y="384.88" width="6.79" height="13.52" fill="#A8A542"/>
<rect x="413.53" y="387.92" width="6.79" height="10.48" fill="#6E7436"/>
<rect x="426.09" y="387.92" width="6.79" height="10.48" fill="#F0C0A0"/>
<rect x="432.88" y="389.74" width="6.79" height="8.66" fill="#C98A6A"/>
<rect x="439.67" y="387.92" width="6.79" height="10.48" fill="#8E5A3A"/>
<rect x="446.46" y="382.45" width="6.79" height="15.95" fill="#9C7848"/>
<rect x="453.25" y="374.1" width="6.79" height="24.3" fill="#C9BE6E"/>
<rect x="460.04" y="377.44" width="6.79" height="20.96" fill="#D8D67A"/>
<rect x="466.83" y="372.27" width="6.79" height="26.13" fill="#A8A542"/>
<rect x="473.62" y="372.27" width="6.79" height="26.13" fill="#6E7436"/>
<rect x="486.19" y="381.39" width="6.79" height="17.01" fill="#F0C0A0"/>
<rect x="492.98" y="380.32" width="6.79" height="18.08" fill="#C98A6A"/>
<rect x="499.77" y="381.39" width="6.79" height="17.01" fill="#8E5A3A"/>
<rect x="506.56" y="365.89" width="6.79" height="32.51" fill="#9C7848"/>
<rect x="513.35" y="360.88" width="6.79" height="37.52" fill="#C9BE6E"/>
<rect x="520.14" y="333.54" width="6.79" height="64.86" fill="#D8D67A"/>
<rect x="526.93" y="339.01" width="6.79" height="59.39" fill="#A8A542"/>
<rect x="533.72" y="337.49" width="6.79" height="60.91" fill="#6E7436"/>
<rect x="546.28" y="373.34" width="6.79" height="25.06" fill="#F0C0A0"/>
<rect x="553.07" y="367.26" width="6.79" height="31.14" fill="#C98A6A"/>
<rect x="559.86" y="373.34" width="6.79" height="25.06" fill="#8E5A3A"/>
<rect x="566.65" y="349.79" width="6.79" height="48.61" fill="#9C7848"/>
<rect x="573.44" y="344.78" width="6.79" height="53.62" fill="#C9BE6E"/>
<rect x="580.23" y="299.36" width="6.79" height="99.04" fill="#D8D67A"/>
<rect x="587.02" y="309.54" width="6.79" height="88.86" fill="#A8A542"/>
<rect x="593.81" y="321.08" width="6.79" height="77.32" fill="#6E7436"/>
<circle cx="369.39" cy="387.27" r="1.4" fill="#8a8a8a" fill-opacity="0.6"/>
<circle cx="376.19" cy="389.05" r="1.4" fill="#8a8a8a" fill-opacity="0.6"/>
<circle cx="382.97" cy="389.05" r="1.4" fill="#8a8a8a" fill-opacity="0.6"/>
<circle cx="389.76" cy="374.8" r="1.4" fill="#8a8a8a" fill-opacity="0.6"/>
<circle cx="389.76" cy="384.59" r="1.4" fill="#8a8a8a" fill-opacity="0.6"/>
<circle cx="396.56" cy="374.44" r="1.4" fill="#8a8a8a" fill-opacity="0.6"/>
<circle cx="396.56" cy="385.49" r="1.4" fill="#8a8a8a" fill-opacity="0.6"/>
<circle cx="396.56" cy="388.16" r="1.4" fill="#8a8a8a" fill-opacity="0.6"/>
<circle cx="403.34" cy="380.14" r="1.4" fill="#8a8a8a" fill-opacity="0.6"/>
<circle cx="410.13" cy="373.02" r="1.4" fill="#8a8a8a" fill-opacity="0.6"/>
<circle cx="416.92" cy="373.37" r="1.4" fill="#8a8a8a" fill-opacity="0.6"/>
<line x1="369.39" y1="388.16" x2="369.39" y2="391.18" stroke="#1a1a1a" stroke-width="0.9"/>
<line x1="368.09" y1="388.16" x2="370.69" y2="388.16" stroke="#1a1a1a" stroke-width="0.9"/>
<line x1="368.09" y1="391.18" x2="370.69" y2="391.18" stroke="#1a1a1a" stroke-width="0.9"/>
<ellipse cx="369.39" cy="389.67" rx="1.4" ry="1.51" fill="#111"/>
<line x1="376.19" y1="389.94" x2="376.19" y2="393.5" stroke="#1a1a1a" stroke-width="0.9"/>
<line x1="374.88" y1="389.94" x2="377.49" y2="389.94" stroke="#1a1a1a" stroke-width="0.9"/>
<line x1="374.88" y1="393.5" x2="377.49" y2="393.5" stroke="#1a1a1a" stroke-width="0.9"/>
<ellipse cx="376.19" cy="391.72" rx="1.4" ry="1.78" fill="#111"/>
<line x1="382.97" y1="388.16" x2="382.97" y2="389.94" stroke="#1a1a1a" stroke-width="0.9"/>
<line x1="381.67" y1="388.16" x2="384.27" y2="388.16" stroke="#1a1a1a" stroke-width="0.9"/>
<line x1="381.67" y1="389.94" x2="384.27" y2="389.94" stroke="#1a1a1a" stroke-width="0.9"/>
<ellipse cx="382.97" cy="389.05" rx="1.4" ry="1.4" fill="#111"/>
<line x1="389.76" y1="387.27" x2="389.76" y2="390.83" stroke="#1a1a1a" stroke-width="0.9"/>
<line x1="388.46" y1="387.27" x2="391.06" y2="387.27" stroke="#1a1a1a" stroke-width="0.9"/>
<line x1="388.46" y1="390.83" x2="391.06" y2="390.83" stroke="#1a1a1a" stroke-width="0.9"/>
<ellipse cx="389.76" cy="389.05" rx="1.4" ry="1.78" fill="#111"/>
<line x1="396.56" y1="378.36" x2="396.56" y2="381.92" stroke="#1a1a1a" stroke-width="0.9"/>
<line x1="395.25" y1="378.36" x2="397.86" y2="378.36" stroke="#1a1a1a" stroke-width="0.9"/>
<line x1="395.25" y1="381.92" x2="397.86" y2="381.92" stroke="#1a1a1a" stroke-width="0.9"/>
<ellipse cx="396.56" cy="380.14" rx="1.4" ry="1.78" fill="#111"/>
<line x1="403.34" y1="387.27" x2="403.34" y2="394.39" stroke="#1a1a1a" stroke-width="0.9"/>
<line x1="402.04" y1="387.27" x2="404.64" y2="387.27" stroke="#1a1a1a" stroke-width="0.9"/>
<line x1="402.04" y1="394.39" x2="404.64" y2="394.39" stroke="#1a1a1a" stroke-width="0.9"/>
<line x1="410.13" y1="381.92" x2="410.13" y2="385.49" stroke="#1a1a1a" stroke-width="0.9"/>
<line x1="408.83" y1="381.92" x2="411.44" y2="381.92" stroke="#1a1a1a" stroke-width="0.9"/>
<line x1="408.83" y1="385.49" x2="411.44" y2="385.49" stroke="#1a1a1a" stroke-width="0.9"/>
<ellipse cx="410.13" cy="383.7" rx="1.4" ry="1.78" fill="#111"/>
<line x1="416.92" y1="383.7" x2="416.92" y2="388.16" stroke="#1a1a1a" stroke-width="0.9"/>
<line x1="415.62" y1="383.7" x2="418.22" y2="383.7" stroke="#1a1a1a" stroke-width="0.9"/>
<line x1="415.62" y1="388.16" x2="418.22" y2="388.16" stroke="#1a1a1a" stroke-width="0.9"/>
<ellipse cx="416.92" cy="385.93" rx="1.4" ry="2.23" fill="#111"/>
<circle cx="429.49" cy="382.81" r="1.4" fill="#8a8a8a" fill-opacity="0.6"/>
<circle cx="436.28" cy="383.7" r="1.4" fill="#8a8a8a" fill-opacity="0.6"/>
<circle cx="443.07" cy="386.55" r="1.4" fill="#8a8a8a" fill-opacity="0.6"/>
<circle cx="449.86" cy="362.33" r="1.4" fill="#8a8a8a" fill-opacity="0.6"/>
<circle cx="449.86" cy="372.13" r="1.4" fill="#8a8a8a" fill-opacity="0.6"/>
<circle cx="456.65" cy="366.79" r="1.4" fill="#8a8a8a" fill-opacity="0.6"/>
<circle cx="463.44" cy="356.63" r="1.4" fill="#8a8a8a" fill-opacity="0.6"/>
<circle cx="463.44" cy="368.57" r="1.4" fill="#8a8a8a" fill-opacity="0.6"/>
<circle cx="463.44" cy="386.38" r="1.4" fill="#8a8a8a" fill-opacity="0.6"/>
<circle cx="463.44" cy="392.25" r="1.4" fill="#8a8a8a" fill-opacity="0.6"/>
<circle cx="470.23" cy="351.65" r="1.4" fill="#8a8a8a" fill-opacity="0.6"/>
<circle cx="470.23" cy="361.44" r="1.4" fill="#8a8a8a" fill-opacity="0.6"/>
<circle cx="477.02" cy="345.77" r="1.4" fill="#8a8a8a" fill-opacity="0.6"/>
<line x1="429.49" y1="385.49" x2="429.49" y2="388.16" stroke="#1a1a1a" stroke-width="0.9"/>
<line x1="428.19" y1="385.49" x2="430.79" y2="385.49" stroke="#1a1a1a" stroke-width="0.9"/>
<line x1="428.19" y1="388.16" x2="430.79" y2="388.16" stroke="#1a1a1a" stroke-width="0.9"/>
<ellipse cx="429.49" cy="386.82" rx="1.4" ry="1.4" fill="#111"/>
<line x1="436.28" y1="385.49" x2="436.28" y2="389.05" stroke="#1a1a1a" stroke-width="0.9"/>
<line x1="434.98" y1="385.49" x2="437.58" y2="385.49" stroke="#1a1a1a" stroke-width="0.9"/>
<line x1="434.98" y1="389.05" x2="437.58" y2="389.05" stroke="#1a1a1a" stroke-width="0.9"/>
<ellipse cx="436.28" cy="387.27" rx="1.4" ry="1.78" fill="#111"/>
<line x1="443.07" y1="385.13" x2="443.07" y2="388.16" stroke="#1a1a1a" stroke-width="0.9"/>
<line x1="441.77" y1="385.13" x2="444.37" y2="385.13" stroke="#1a1a1a" stroke-width="0.9"/>
<line x1="441.77" y1="388.16" x2="444.37" y2="388.16" stroke="#1a1a1a" stroke-width="0.9"/>
<ellipse cx="443.07" cy="386.64" rx="1.4" ry="1.51" fill="#111"/>
<line x1="449.86" y1="378.36" x2="449.86" y2="383.7" stroke="#1a1a1a" stroke-width="0.9"/>
<line x1="448.56" y1="378.36" x2="451.16" y2="378.36" stroke="#1a1a1a" stroke-width="0.9"/>
<line x1="448.56" y1="383.7" x2="451.16" y2="383.7" stroke="#1a1a1a" stroke-width="0.9"/>
<line x1="456.65" y1="372.13" x2="456.65" y2="375.69" stroke="#1a1a1a" stroke-width="0.9"/>
<line x1="455.35" y1="372.13" x2="457.95" y2="372.13" stroke="#1a1a1a" stroke-width="0.9"/>
<line x1="455.35" y1="375.69" x2="457.95" y2="375.69" stroke="#1a1a1a" stroke-width="0.9"/>
<ellipse cx="456.65" cy="373.91" rx="1.4" ry="1.78" fill="#111"/>
<line x1="463.44" y1="373.02" x2="463.44" y2="381.92" stroke="#1a1a1a" stroke-width="0.9"/>
<line x1="462.14" y1="373.02" x2="464.74" y2="373.02" stroke="#1a1a1a" stroke-width="0.9"/>
<line x1="462.14" y1="381.92" x2="464.74" y2="381.92" stroke="#1a1a1a" stroke-width="0.9"/>
<line x1="470.23" y1="365" x2="470.23" y2="374.8" stroke="#1a1a1a" stroke-width="0.9"/>
<line x1="468.93" y1="365" x2="471.53" y2="365" stroke="#1a1a1a" stroke-width="0.9"/>
<line x1="468.93" y1="374.8" x2="471.53" y2="374.8" stroke="#1a1a1a" stroke-width="0.9"/>
<line x1="477.02" y1="364.11" x2="477.02" y2="378.36" stroke="#1a1a1a" stroke-width="0.9"/>
<line x1="475.72" y1="364.11" x2="478.32" y2="364.11" stroke="#1a1a1a" stroke-width="0.9"/>
<line x1="475.72" y1="378.36" x2="478.32" y2="378.36" stroke="#1a1a1a" stroke-width="0.9"/>
<circle cx="489.58" cy="372" r="1.4" fill="#8a8a8a" fill-opacity="0.6"/>
<circle cx="489.58" cy="376.62" r="1.4" fill="#8a8a8a" fill-opacity="0.6"/>
<circle cx="496.37" cy="367.93" r="1.4" fill="#8a8a8a" fill-opacity="0.6"/>
<circle cx="496.37" cy="374.21" r="1.4" fill="#8a8a8a" fill-opacity="0.6"/>
<circle cx="503.16" cy="375.69" r="1.4" fill="#8a8a8a" fill-opacity="0.6"/>
<circle cx="509.95" cy="341.5" r="1.4" fill="#8a8a8a" fill-opacity="0.6"/>
<circle cx="509.95" cy="351.66" r="1.4" fill="#8a8a8a" fill-opacity="0.6"/>
<circle cx="509.95" cy="376.62" r="1.4" fill="#8a8a8a" fill-opacity="0.6"/>
<circle cx="516.74" cy="348.89" r="1.4" fill="#8a8a8a" fill-opacity="0.6"/>
<circle cx="516.74" cy="370.15" r="1.4" fill="#8a8a8a" fill-opacity="0.6"/>
<circle cx="523.53" cy="276.25" r="1.4" fill="#8a8a8a" fill-opacity="0.6"/>
<circle cx="523.53" cy="308.78" r="1.4" fill="#8a8a8a" fill-opacity="0.6"/>
<circle cx="523.53" cy="356.28" r="1.4" fill="#8a8a8a" fill-opacity="0.6"/>
<circle cx="523.53" cy="367.38" r="1.4" fill="#8a8a8a" fill-opacity="0.6"/>
<circle cx="530.32" cy="300.46" r="1.4" fill="#8a8a8a" fill-opacity="0.6"/>
<circle cx="530.32" cy="322.09" r="1.4" fill="#8a8a8a" fill-opacity="0.6"/>
<circle cx="530.32" cy="357.21" r="1.4" fill="#8a8a8a" fill-opacity="0.6"/>
<circle cx="530.32" cy="361.83" r="1.4" fill="#8a8a8a" fill-opacity="0.6"/>
<circle cx="537.11" cy="314.33" r="1.4" fill="#8a8a8a" fill-opacity="0.6"/>
<circle cx="537.11" cy="356.84" r="1.4" fill="#8a8a8a" fill-opacity="0.6"/>
<line x1="489.58" y1="379.39" x2="489.58" y2="384.57" stroke="#1a1a1a" stroke-width="0.9"/>
<line x1="488.28" y1="379.39" x2="490.88" y2="379.39" stroke="#1a1a1a" stroke-width="0.9"/>
<line x1="488.28" y1="384.57" x2="490.88" y2="384.57" stroke="#1a1a1a" stroke-width="0.9"/>
<line x1="496.37" y1="376.62" x2="496.37" y2="383.09" stroke="#1a1a1a" stroke-width="0.9"/>
<line x1="495.07" y1="376.62" x2="497.67" y2="376.62" stroke="#1a1a1a" stroke-width="0.9"/>
<line x1="495.07" y1="383.09" x2="497.67" y2="383.09" stroke="#1a1a1a" stroke-width="0.9"/>
<line x1="503.16" y1="377.54" x2="503.16" y2="384.01" stroke="#1a1a1a" stroke-width="0.9"/>
<line x1="501.86" y1="377.54" x2="504.46" y2="377.54" stroke="#1a1a1a" stroke-width="0.9"/>
<line x1="501.86" y1="384.01" x2="504.46" y2="384.01" stroke="#1a1a1a" stroke-width="0.9"/>
<line x1="509.95" y1="360.91" x2="509.95" y2="368.3" stroke="#1a1a1a" stroke-width="0.9"/>
<line x1="508.65" y1="360.91" x2="511.25" y2="360.91" stroke="#1a1a1a" stroke-width="0.9"/>
<line x1="508.65" y1="368.3" x2="511.25" y2="368.3" stroke="#1a1a1a" stroke-width="0.9"/>
<line x1="516.74" y1="353.88" x2="516.74" y2="365.53" stroke="#1a1a1a" stroke-width="0.9"/>
<line x1="515.44" y1="353.88" x2="518.04" y2="353.88" stroke="#1a1a1a" stroke-width="0.9"/>
<line x1="515.44" y1="365.53" x2="518.04" y2="365.53" stroke="#1a1a1a" stroke-width="0.9"/>
<line x1="523.53" y1="322.09" x2="523.53" y2="345.19" stroke="#1a1a1a" stroke-width="0.9"/>
<line x1="522.23" y1="322.09" x2="524.83" y2="322.09" stroke="#1a1a1a" stroke-width="0.9"/>
<line x1="522.23" y1="345.19" x2="524.83" y2="345.19" stroke="#1a1a1a" stroke-width="0.9"/>
<line x1="530.32" y1="327.63" x2="530.32" y2="352.59" stroke="#1a1a1a" stroke-width="0.9"/>
<line x1="529.02" y1="327.63" x2="531.62" y2="327.63" stroke="#1a1a1a" stroke-width="0.9"/>
<line x1="529.02" y1="352.59" x2="531.62" y2="352.59" stroke="#1a1a1a" stroke-width="0.9"/>
<line x1="537.11" y1="325.79" x2="537.11" y2="347.97" stroke="#1a1a1a" stroke-width="0.9"/>
<line x1="535.81" y1="325.79" x2="538.41" y2="325.79" stroke="#1a1a1a" stroke-width="0.9"/>
<line x1="535.81" y1="347.97" x2="538.41" y2="347.97" stroke="#1a1a1a" stroke-width="0.9"/>
<circle cx="549.67" cy="362.75" r="1.4" fill="#8a8a8a" fill-opacity="0.6"/>
<circle cx="556.46" cy="357.21" r="1.4" fill="#8a8a8a" fill-opacity="0.6"/>
<circle cx="563.25" cy="363.31" r="1.4" fill="#8a8a8a" fill-opacity="0.6"/>
<circle cx="570.04" cy="335.95" r="1.4" fill="#8a8a8a" fill-opacity="0.6"/>
<circle cx="570.04" cy="339.65" r="1.4" fill="#8a8a8a" fill-opacity="0.6"/>
<circle cx="576.83" cy="319.32" r="1.4" fill="#8a8a8a" fill-opacity="0.6"/>
<circle cx="576.83" cy="324.31" r="1.4" fill="#8a8a8a" fill-opacity="0.6"/>
<circle cx="583.62" cy="250" r="1.4" fill="#8a8a8a" fill-opacity="0.6"/>
<circle cx="583.62" cy="254.62" r="1.4" fill="#8a8a8a" fill-opacity="0.6"/>
<circle cx="583.62" cy="311" r="1.4" fill="#8a8a8a" fill-opacity="0.6"/>
<circle cx="583.62" cy="318.76" r="1.4" fill="#8a8a8a" fill-opacity="0.6"/>
<circle cx="590.41" cy="293.99" r="1.4" fill="#8a8a8a" fill-opacity="0.6"/>
<circle cx="590.41" cy="323.94" r="1.4" fill="#8a8a8a" fill-opacity="0.6"/>
<circle cx="590.41" cy="330.96" r="1.4" fill="#8a8a8a" fill-opacity="0.6"/>
<circle cx="597.2" cy="307.3" r="1.4" fill="#8a8a8a" fill-opacity="0.6"/>
<line x1="549.67" y1="369.22" x2="549.67" y2="377.54" stroke="#1a1a1a" stroke-width="0.9"/>
<line x1="548.38" y1="369.22" x2="550.97" y2="369.22" stroke="#1a1a1a" stroke-width="0.9"/>
<line x1="548.38" y1="377.54" x2="550.97" y2="377.54" stroke="#1a1a1a" stroke-width="0.9"/>
<line x1="556.46" y1="358.69" x2="556.46" y2="372" stroke="#1a1a1a" stroke-width="0.9"/>
<line x1="555.16" y1="358.69" x2="557.76" y2="358.69" stroke="#1a1a1a" stroke-width="0.9"/>
<line x1="555.16" y1="372" x2="557.76" y2="372" stroke="#1a1a1a" stroke-width="0.9"/>
<line x1="563.25" y1="368.67" x2="563.25" y2="377.54" stroke="#1a1a1a" stroke-width="0.9"/>
<line x1="561.96" y1="368.67" x2="564.55" y2="368.67" stroke="#1a1a1a" stroke-width="0.9"/>
<line x1="561.96" y1="377.54" x2="564.55" y2="377.54" stroke="#1a1a1a" stroke-width="0.9"/>
<line x1="570.04" y1="343.35" x2="570.04" y2="353.51" stroke="#1a1a1a" stroke-width="0.9"/>
<line x1="568.75" y1="343.35" x2="571.34" y2="343.35" stroke="#1a1a1a" stroke-width="0.9"/>
<line x1="568.75" y1="353.51" x2="571.34" y2="353.51" stroke="#1a1a1a" stroke-width="0.9"/>
<line x1="576.83" y1="331.33" x2="576.83" y2="358.13" stroke="#1a1a1a" stroke-width="0.9"/>
<line x1="575.53" y1="331.33" x2="578.13" y2="331.33" stroke="#1a1a1a" stroke-width="0.9"/>
<line x1="575.53" y1="358.13" x2="578.13" y2="358.13" stroke="#1a1a1a" stroke-width="0.9"/>
<line x1="583.62" y1="277.73" x2="583.62" y2="306.38" stroke="#1a1a1a" stroke-width="0.9"/>
<line x1="582.33" y1="277.73" x2="584.92" y2="277.73" stroke="#1a1a1a" stroke-width="0.9"/>
<line x1="582.33" y1="306.38" x2="584.92" y2="306.38" stroke="#1a1a1a" stroke-width="0.9"/>
<line x1="590.41" y1="297.13" x2="590.41" y2="320.24" stroke="#1a1a1a" stroke-width="0.9"/>
<line x1="589.12" y1="297.13" x2="591.71" y2="297.13" stroke="#1a1a1a" stroke-width="0.9"/>
<line x1="589.12" y1="320.24" x2="591.71" y2="320.24" stroke="#1a1a1a" stroke-width="0.9"/>
<line x1="597.2" y1="311.37" x2="597.2" y2="327.63" stroke="#1a1a1a" stroke-width="0.9"/>
<line x1="595.9" y1="311.37" x2="598.5" y2="311.37" stroke="#1a1a1a" stroke-width="0.9"/>
<line x1="595.9" y1="327.63" x2="598.5" y2="327.63" stroke="#1a1a1a" stroke-width="0.9"/>
<line x1="365.6" y1="246" x2="365.6" y2="398.4" stroke="#666" stroke-width="1"/>
<line x1="365.6" y1="398.4" x2="600.6" y2="398.4" stroke="#555" stroke-width="1.3"/>
<text transform="translate(359 400.9) scale(0.9 1)" font-size="9" fill="#262626" text-anchor="end">0</text>
<text transform="translate(359 362.92) scale(0.9 1)" font-size="9" fill="#262626" text-anchor="end">25</text>
<text transform="translate(359 324.95) scale(0.9 1)" font-size="9" fill="#262626" text-anchor="end">50</text>
<text transform="translate(359 286.98) scale(0.9 1)" font-size="9" fill="#262626" text-anchor="end">75</text>
<text transform="translate(359 249) scale(0.9 1)" font-size="9" fill="#262626" text-anchor="end">100</text>
<text transform="translate(393.16 410.4) scale(0.9 1)" font-size="9" fill="#262626" text-anchor="middle">1.5</text>
<text transform="translate(453.25 410.4) scale(0.9 1)" font-size="9" fill="#262626" text-anchor="middle">2</text>
<text transform="translate(513.35 410.4) scale(0.9 1)" font-size="9" fill="#262626" text-anchor="middle">3</text>
<text transform="translate(573.44 410.4) scale(0.9 1)" font-size="9" fill="#262626" text-anchor="middle">4</text>
<text x="352.8" y="226.7" font-size="9" fill="#222" stroke="#222" text-anchor="start">c</text>
<text x="365.1" y="240.5" font-size="9.6" fill="#262626" stroke="#262626" text-anchor="start">Cereals</text>
<text x="615.3" y="253.3" font-size="9.6" fill="#262626" stroke="#262626" text-anchor="start">Crop (median)</text>
<rect x="615.3" y="256.9" width="11.3" height="11" fill="#F0C0A0"/>
<text x="631.2" y="265.4" font-size="8.25" fill="#262626" stroke="#262626" text-anchor="start">Barley</text>
<rect x="615.3" y="269.35" width="11.3" height="11" fill="#C98A6A"/>
<text x="631.2" y="277.85" font-size="8.25" fill="#262626" stroke="#262626" text-anchor="start">Maize</text>
<rect x="615.3" y="281.8" width="11.3" height="11" fill="#8E5A3A"/>
<text x="631.2" y="290.3" font-size="8.25" fill="#262626" stroke="#262626" text-anchor="start">Other cereals</text>
<rect x="615.3" y="294.25" width="11.3" height="11" fill="#9C7848"/>
<text x="631.2" y="302.75" font-size="8.25" fill="#262626" stroke="#262626" text-anchor="start">Wheat</text>
<rect x="615.3" y="306.7" width="11.3" height="11" fill="#C9BE6E"/>
<text x="631.2" y="315.2" font-size="8.25" fill="#262626" stroke="#262626" text-anchor="start">Small millet</text>
<rect x="615.3" y="319.15" width="11.3" height="11" fill="#D8D67A"/>
<text x="631.2" y="327.65" font-size="8.25" fill="#262626" stroke="#262626" text-anchor="start">Pearl millet</text>
<rect x="615.3" y="331.6" width="11.3" height="11" fill="#A8A542"/>
<text x="631.2" y="340.1" font-size="8.25" fill="#262626" stroke="#262626" text-anchor="start">Rice</text>
<rect x="615.3" y="344.05" width="11.3" height="11" fill="#6E7436"/>
<text x="631.2" y="352.55" font-size="8.25" fill="#262626" stroke="#262626" text-anchor="start">Sorghum</text>
<line x1="618.7" y1="362.4" x2="618.7" y2="381.6" stroke="#555" stroke-width="1"/>
<line x1="617.4" y1="362.4" x2="620" y2="362.4" stroke="#555" stroke-width="1"/>
<line x1="617.4" y1="381.6" x2="620" y2="381.6" stroke="#555" stroke-width="1"/>
<text x="624" y="370.8" font-size="8.25" fill="#262626" stroke="#262626">25<tspan font-size="5.45" dy="-3.2">th</tspan><tspan dy="3.2"> and 75</tspan><tspan font-size="5.45" dy="-3.2">th</tspan></text>
<text x="624" y="380.5" font-size="8.25" fill="#262626" stroke="#262626" text-anchor="start">percentile</text>
<circle cx="618.7" cy="393" r="1.8" fill="#b0b0b0"/>
<text x="624" y="395.9" font-size="8.25" fill="#262626" stroke="#262626" text-anchor="start">Individual GCMs</text>
<line x1="23.8" y1="558.52" x2="259.3" y2="558.52" stroke="#d4d4d4" stroke-width="1"/>
<line x1="23.8" y1="520.55" x2="259.3" y2="520.55" stroke="#d4d4d4" stroke-width="1"/>
<line x1="23.8" y1="482.58" x2="259.3" y2="482.58" stroke="#d4d4d4" stroke-width="1"/>
<line x1="23.8" y1="444.6" x2="259.3" y2="444.6" stroke="#d4d4d4" stroke-width="1"/>
<rect x="24.5" y="582.07" width="18.2" height="14.43" fill="#D6E6F2"/>
<rect x="42.7" y="582.22" width="18.2" height="14.28" fill="#92D0E4"/>
<rect x="60.9" y="590.42" width="18.2" height="6.08" fill="#1D4A5C"/>
<rect x="84.57" y="575.23" width="18.2" height="21.27" fill="#D6E6F2"/>
<rect x="102.77" y="570.07" width="18.2" height="26.43" fill="#92D0E4"/>
<rect x="120.97" y="565.36" width="18.2" height="31.14" fill="#1D4A5C"/>
<rect x="144.63" y="555.18" width="18.2" height="41.32" fill="#D6E6F2"/>
<rect x="162.83" y="532.25" width="18.2" height="64.25" fill="#92D0E4"/>
<rect x="181.03" y="501.87" width="18.2" height="94.63" fill="#1D4A5C"/>
<rect x="204.7" y="543.03" width="18.2" height="53.47" fill="#D6E6F2"/>
<rect x="222.9" y="509.61" width="18.2" height="86.89" fill="#92D0E4"/>
<rect x="241.1" y="473.01" width="18.2" height="123.49" fill="#1D4A5C"/>
<circle cx="33.6" cy="573.19" r="1.4" fill="#8a8a8a" fill-opacity="0.6"/>
<circle cx="51.8" cy="569.25" r="1.4" fill="#8a8a8a" fill-opacity="0.6"/>
<circle cx="51.8" cy="588.96" r="1.4" fill="#8a8a8a" fill-opacity="0.6"/>
<circle cx="70" cy="573.19" r="1.4" fill="#8a8a8a" fill-opacity="0.6"/>
<line x1="33.6" y1="581.08" x2="33.6" y2="582.65" stroke="#1a1a1a" stroke-width="0.9"/>
<line x1="31.1" y1="581.08" x2="36.1" y2="581.08" stroke="#1a1a1a" stroke-width="0.9"/>
<line x1="31.1" y1="582.65" x2="36.1" y2="582.65" stroke="#1a1a1a" stroke-width="0.9"/>
<ellipse cx="33.6" cy="581.87" rx="1.4" ry="1.4" fill="#111"/>
<line x1="51.8" y1="580.55" x2="51.8" y2="585.02" stroke="#1a1a1a" stroke-width="0.9"/>
<line x1="49.3" y1="580.55" x2="54.3" y2="580.55" stroke="#1a1a1a" stroke-width="0.9"/>
<line x1="49.3" y1="585.02" x2="54.3" y2="585.02" stroke="#1a1a1a" stroke-width="0.9"/>
<ellipse cx="51.8" cy="582.79" rx="1.4" ry="2.23" fill="#111"/>
<line x1="70" y1="588.43" x2="70" y2="590.27" stroke="#1a1a1a" stroke-width="0.9"/>
<line x1="67.5" y1="588.43" x2="72.5" y2="588.43" stroke="#1a1a1a" stroke-width="0.9"/>
<line x1="67.5" y1="590.27" x2="72.5" y2="590.27" stroke="#1a1a1a" stroke-width="0.9"/>
<ellipse cx="70" cy="589.35" rx="1.4" ry="1.4" fill="#111"/>
<circle cx="93.67" cy="556.12" r="1.4" fill="#8a8a8a" fill-opacity="0.6"/>
<circle cx="93.67" cy="573.19" r="1.4" fill="#8a8a8a" fill-opacity="0.6"/>
<circle cx="111.87" cy="545.08" r="1.4" fill="#8a8a8a" fill-opacity="0.6"/>
<circle cx="111.87" cy="579.76" r="1.4" fill="#8a8a8a" fill-opacity="0.6"/>
<circle cx="130.07" cy="525.11" r="1.4" fill="#8a8a8a" fill-opacity="0.6"/>
<circle cx="130.07" cy="550.86" r="1.4" fill="#8a8a8a" fill-opacity="0.6"/>
<circle cx="130.07" cy="588.96" r="1.4" fill="#8a8a8a" fill-opacity="0.6"/>
<line x1="93.67" y1="573.19" x2="93.67" y2="575.82" stroke="#1a1a1a" stroke-width="0.9"/>
<line x1="91.17" y1="573.19" x2="96.17" y2="573.19" stroke="#1a1a1a" stroke-width="0.9"/>
<line x1="91.17" y1="575.82" x2="96.17" y2="575.82" stroke="#1a1a1a" stroke-width="0.9"/>
<ellipse cx="93.67" cy="574.51" rx="1.4" ry="1.4" fill="#111"/>
<line x1="111.87" y1="558.22" x2="111.87" y2="572.67" stroke="#1a1a1a" stroke-width="0.9"/>
<line x1="109.37" y1="558.22" x2="114.37" y2="558.22" stroke="#1a1a1a" stroke-width="0.9"/>
<line x1="109.37" y1="572.67" x2="114.37" y2="572.67" stroke="#1a1a1a" stroke-width="0.9"/>
<line x1="130.07" y1="552.96" x2="130.07" y2="577.14" stroke="#1a1a1a" stroke-width="0.9"/>
<line x1="127.57" y1="552.96" x2="132.57" y2="552.96" stroke="#1a1a1a" stroke-width="0.9"/>
<line x1="127.57" y1="577.14" x2="132.57" y2="577.14" stroke="#1a1a1a" stroke-width="0.9"/>
<circle cx="153.73" cy="539.56" r="1.4" fill="#8a8a8a" fill-opacity="0.6"/>
<circle cx="153.73" cy="564" r="1.4" fill="#8a8a8a" fill-opacity="0.6"/>
<circle cx="153.73" cy="566.1" r="1.4" fill="#8a8a8a" fill-opacity="0.6"/>
<circle cx="171.93" cy="507.51" r="1.4" fill="#8a8a8a" fill-opacity="0.6"/>
<circle cx="171.93" cy="514.6" r="1.4" fill="#8a8a8a" fill-opacity="0.6"/>
<circle cx="171.93" cy="556.12" r="1.4" fill="#8a8a8a" fill-opacity="0.6"/>
<circle cx="190.13" cy="474.67" r="1.4" fill="#8a8a8a" fill-opacity="0.6"/>
<circle cx="190.13" cy="487.8" r="1.4" fill="#8a8a8a" fill-opacity="0.6"/>
<line x1="153.73" y1="550.07" x2="153.73" y2="560.06" stroke="#1a1a1a" stroke-width="0.9"/>
<line x1="151.23" y1="550.07" x2="156.23" y2="550.07" stroke="#1a1a1a" stroke-width="0.9"/>
<line x1="151.23" y1="560.06" x2="156.23" y2="560.06" stroke="#1a1a1a" stroke-width="0.9"/>
<line x1="171.93" y1="522.49" x2="171.93" y2="548.76" stroke="#1a1a1a" stroke-width="0.9"/>
<line x1="169.43" y1="522.49" x2="174.43" y2="522.49" stroke="#1a1a1a" stroke-width="0.9"/>
<line x1="169.43" y1="548.76" x2="174.43" y2="548.76" stroke="#1a1a1a" stroke-width="0.9"/>
<line x1="190.13" y1="490.43" x2="190.13" y2="518.02" stroke="#1a1a1a" stroke-width="0.9"/>
<line x1="187.63" y1="490.43" x2="192.63" y2="490.43" stroke="#1a1a1a" stroke-width="0.9"/>
<line x1="187.63" y1="518.02" x2="192.63" y2="518.02" stroke="#1a1a1a" stroke-width="0.9"/>
<circle cx="213.8" cy="527.38" r="1.4" fill="#8a8a8a" fill-opacity="0.6"/>
<circle cx="213.8" cy="551.72" r="1.4" fill="#8a8a8a" fill-opacity="0.6"/>
<circle cx="232" cy="497.32" r="1.4" fill="#8a8a8a" fill-opacity="0.6"/>
<circle cx="232" cy="499.86" r="1.4" fill="#8a8a8a" fill-opacity="0.6"/>
<circle cx="232" cy="516.79" r="1.4" fill="#8a8a8a" fill-opacity="0.6"/>
<circle cx="232" cy="522.72" r="1.4" fill="#8a8a8a" fill-opacity="0.6"/>
<circle cx="250.2" cy="459.21" r="1.4" fill="#8a8a8a" fill-opacity="0.6"/>
<circle cx="250.2" cy="461.75" r="1.4" fill="#8a8a8a" fill-opacity="0.6"/>
<circle cx="250.2" cy="492.45" r="1.4" fill="#8a8a8a" fill-opacity="0.6"/>
<line x1="213.8" y1="534.36" x2="213.8" y2="548.54" stroke="#1a1a1a" stroke-width="0.9"/>
<line x1="211.3" y1="534.36" x2="216.3" y2="534.36" stroke="#1a1a1a" stroke-width="0.9"/>
<line x1="211.3" y1="548.54" x2="216.3" y2="548.54" stroke="#1a1a1a" stroke-width="0.9"/>
<line x1="232" y1="503.03" x2="232" y2="512.56" stroke="#1a1a1a" stroke-width="0.9"/>
<line x1="229.5" y1="503.03" x2="234.5" y2="503.03" stroke="#1a1a1a" stroke-width="0.9"/>
<line x1="229.5" y1="512.56" x2="234.5" y2="512.56" stroke="#1a1a1a" stroke-width="0.9"/>
<line x1="250.2" y1="461.33" x2="250.2" y2="489.27" stroke="#1a1a1a" stroke-width="0.9"/>
<line x1="247.7" y1="461.33" x2="252.7" y2="461.33" stroke="#1a1a1a" stroke-width="0.9"/>
<line x1="247.7" y1="489.27" x2="252.7" y2="489.27" stroke="#1a1a1a" stroke-width="0.9"/>
<line x1="23.8" y1="444.1" x2="23.8" y2="596.5" stroke="#666" stroke-width="1"/>
<line x1="23.8" y1="596.5" x2="259.3" y2="596.5" stroke="#555" stroke-width="1.3"/>
<text transform="translate(18.9 599) scale(0.9 1)" font-size="9" fill="#262626" text-anchor="end">0</text>
<text transform="translate(18.9 561.02) scale(0.9 1)" font-size="9" fill="#262626" text-anchor="end">25</text>
<text transform="translate(18.9 523.05) scale(0.9 1)" font-size="9" fill="#262626" text-anchor="end">50</text>
<text transform="translate(18.9 485.08) scale(0.9 1)" font-size="9" fill="#262626" text-anchor="end">75</text>
<text transform="translate(18.9 447.1) scale(0.9 1)" font-size="9" fill="#262626" text-anchor="end">100</text>
<text transform="translate(51.8 609.4) scale(0.9 1)" font-size="9" fill="#262626" text-anchor="middle">1.5</text>
<text transform="translate(111.87 609.4) scale(0.9 1)" font-size="9" fill="#262626" text-anchor="middle">2</text>
<text transform="translate(171.93 609.4) scale(0.9 1)" font-size="9" fill="#262626" text-anchor="middle">3</text>
<text transform="translate(232 609.4) scale(0.9 1)" font-size="9" fill="#262626" text-anchor="middle">4</text>
<text x="8.8" y="423.9" font-size="9" fill="#222" stroke="#222" text-anchor="start">d</text>
<text x="24" y="438.8" font-size="9.6" fill="#262626" stroke="#262626" text-anchor="start">Oilcrops</text>
<text x="274.1" y="479.9" font-size="9.6" fill="#262626" stroke="#262626" text-anchor="start">Crop (median)</text>
<rect x="274.1" y="486.1" width="11.6" height="11.2" fill="#D6E6F2"/>
<text x="290.4" y="494.7" font-size="8.2" fill="#262626" stroke="#262626" text-anchor="start">Soybean</text>
<rect x="274.1" y="498.6" width="11.6" height="11.2" fill="#92D0E4"/>
<text x="290.4" y="507.2" font-size="8.2" fill="#262626" stroke="#262626" text-anchor="start">Groundnut</text>
<rect x="274.1" y="511.1" width="11.6" height="11.2" fill="#1D4A5C"/>
<text x="290.4" y="519.7" font-size="8.2" fill="#262626" stroke="#262626" text-anchor="start">Coconut</text>
<line x1="278.7" y1="532.7" x2="278.7" y2="551.7" stroke="#555" stroke-width="1"/>
<line x1="277.4" y1="532.7" x2="280" y2="532.7" stroke="#555" stroke-width="1"/>
<line x1="277.4" y1="551.7" x2="280" y2="551.7" stroke="#555" stroke-width="1"/>
<text x="283.6" y="541.1" font-size="8.2" fill="#262626" stroke="#262626">25<tspan font-size="5.41" dy="-3.2">th</tspan><tspan dy="3.2"> and 75</tspan><tspan font-size="5.41" dy="-3.2">th</tspan></text>
<text x="283.6" y="550.7" font-size="8.2" fill="#262626" stroke="#262626" text-anchor="start">percentile</text>
<circle cx="278.7" cy="563.4" r="1.8" fill="#b0b0b0"/>
<text x="283.6" y="565.5" font-size="8.2" fill="#262626" stroke="#262626" text-anchor="start">Individual GCMs</text>
<line x1="365.6" y1="558.45" x2="600.7" y2="558.45" stroke="#d4d4d4" stroke-width="1"/>
<line x1="365.6" y1="520.4" x2="600.7" y2="520.4" stroke="#d4d4d4" stroke-width="1"/>
<line x1="365.6" y1="482.35" x2="600.7" y2="482.35" stroke="#d4d4d4" stroke-width="1"/>
<line x1="365.6" y1="444.3" x2="600.7" y2="444.3" stroke="#d4d4d4" stroke-width="1"/>
<rect x="366.1" y="587.52" width="9.03" height="8.98" fill="#F2C6D0"/>
<rect x="375.13" y="588.59" width="9.03" height="7.91" fill="#DE9CAC"/>
<rect x="384.16" y="584.48" width="9.03" height="12.02" fill="#CF7088"/>
<rect x="393.19" y="591.93" width="9.03" height="4.57" fill="#B8506A"/>
<rect x="402.22" y="574.89" width="9.03" height="21.61" fill="#8A2C48"/>
<rect x="411.25" y="580.52" width="9.03" height="15.98" fill="#52142A"/>
<rect x="426.24" y="582.65" width="9.03" height="13.85" fill="#F2C6D0"/>
<rect x="435.27" y="583.56" width="9.03" height="12.94" fill="#DE9CAC"/>
<rect x="444.3" y="578.69" width="9.03" height="17.81" fill="#CF7088"/>
<rect x="453.33" y="584.48" width="9.03" height="12.02" fill="#B8506A"/>
<rect x="462.36" y="557.08" width="9.03" height="39.42" fill="#8A2C48"/>
<rect x="471.39" y="554.49" width="9.03" height="42.01" fill="#52142A"/>
<rect x="486.38" y="575.19" width="9.03" height="21.31" fill="#F2C6D0"/>
<rect x="495.41" y="564.23" width="9.03" height="32.27" fill="#DE9CAC"/>
<rect x="504.44" y="553.28" width="9.03" height="43.22" fill="#CF7088"/>
<rect x="513.47" y="519.94" width="9.03" height="76.56" fill="#B8506A"/>
<rect x="522.5" y="515.68" width="9.03" height="80.82" fill="#8A2C48"/>
<rect x="531.53" y="486.46" width="9.03" height="110.04" fill="#52142A"/>
<rect x="546.52" y="565.15" width="9.03" height="31.35" fill="#F2C6D0"/>
<rect x="555.55" y="539.12" width="9.03" height="57.38" fill="#DE9CAC"/>
<rect x="564.58" y="487.98" width="9.03" height="108.52" fill="#CF7088"/>
<rect x="573.61" y="470.63" width="9.03" height="125.87" fill="#B8506A"/>
<rect x="582.64" y="497.11" width="9.03" height="99.39" fill="#8A2C48"/>
<rect x="591.67" y="457.85" width="9.03" height="138.65" fill="#52142A"/>
<circle cx="370.62" cy="581.46" r="1.4" fill="#8a8a8a" fill-opacity="0.6"/>
<circle cx="379.64" cy="584.97" r="1.4" fill="#8a8a8a" fill-opacity="0.6"/>
<circle cx="388.68" cy="573.23" r="1.4" fill="#8a8a8a" fill-opacity="0.6"/>
<circle cx="397.7" cy="574.46" r="1.4" fill="#8a8a8a" fill-opacity="0.6"/>
<circle cx="406.74" cy="546.43" r="1.4" fill="#8a8a8a" fill-opacity="0.6"/>
<circle cx="406.74" cy="565.17" r="1.4" fill="#8a8a8a" fill-opacity="0.6"/>
<circle cx="415.76" cy="560.79" r="1.4" fill="#8a8a8a" fill-opacity="0.6"/>
<circle cx="415.76" cy="573.23" r="1.4" fill="#8a8a8a" fill-opacity="0.6"/>
<line x1="370.62" y1="585.84" x2="370.62" y2="587.6" stroke="#1a1a1a" stroke-width="0.9"/>
<line x1="369.01" y1="585.84" x2="372.22" y2="585.84" stroke="#1a1a1a" stroke-width="0.9"/>
<line x1="369.01" y1="587.6" x2="372.22" y2="587.6" stroke="#1a1a1a" stroke-width="0.9"/>
<ellipse cx="370.62" cy="586.72" rx="1.4" ry="1.4" fill="#111"/>
<line x1="379.64" y1="587.07" x2="379.64" y2="588.47" stroke="#1a1a1a" stroke-width="0.9"/>
<line x1="378.04" y1="587.07" x2="381.25" y2="587.07" stroke="#1a1a1a" stroke-width="0.9"/>
<line x1="378.04" y1="588.47" x2="381.25" y2="588.47" stroke="#1a1a1a" stroke-width="0.9"/>
<ellipse cx="379.64" cy="587.77" rx="1.4" ry="1.4" fill="#111"/>
<line x1="388.68" y1="581.46" x2="388.68" y2="585.84" stroke="#1a1a1a" stroke-width="0.9"/>
<line x1="387.07" y1="581.46" x2="390.28" y2="581.46" stroke="#1a1a1a" stroke-width="0.9"/>
<line x1="387.07" y1="585.84" x2="390.28" y2="585.84" stroke="#1a1a1a" stroke-width="0.9"/>
<ellipse cx="388.68" cy="583.65" rx="1.4" ry="2.19" fill="#111"/>
<line x1="397.7" y1="590.22" x2="397.7" y2="591.98" stroke="#1a1a1a" stroke-width="0.9"/>
<line x1="396.1" y1="590.22" x2="399.31" y2="590.22" stroke="#1a1a1a" stroke-width="0.9"/>
<line x1="396.1" y1="591.98" x2="399.31" y2="591.98" stroke="#1a1a1a" stroke-width="0.9"/>
<ellipse cx="397.7" cy="591.1" rx="1.4" ry="1.4" fill="#111"/>
<line x1="406.74" y1="568.33" x2="406.74" y2="577.08" stroke="#1a1a1a" stroke-width="0.9"/>
<line x1="405.13" y1="568.33" x2="408.34" y2="568.33" stroke="#1a1a1a" stroke-width="0.9"/>
<line x1="405.13" y1="577.08" x2="408.34" y2="577.08" stroke="#1a1a1a" stroke-width="0.9"/>
<line x1="415.76" y1="575.68" x2="415.76" y2="585.84" stroke="#1a1a1a" stroke-width="0.9"/>
<line x1="414.16" y1="575.68" x2="417.37" y2="575.68" stroke="#1a1a1a" stroke-width="0.9"/>
<line x1="414.16" y1="585.84" x2="417.37" y2="585.84" stroke="#1a1a1a" stroke-width="0.9"/>
<circle cx="430.75" cy="578.84" r="1.4" fill="#8a8a8a" fill-opacity="0.6"/>
<circle cx="439.78" cy="568.68" r="1.4" fill="#8a8a8a" fill-opacity="0.6"/>
<circle cx="448.81" cy="544.67" r="1.4" fill="#8a8a8a" fill-opacity="0.6"/>
<circle cx="448.81" cy="567.45" r="1.4" fill="#8a8a8a" fill-opacity="0.6"/>
<circle cx="457.84" cy="526.28" r="1.4" fill="#8a8a8a" fill-opacity="0.6"/>
<circle cx="457.84" cy="558.34" r="1.4" fill="#8a8a8a" fill-opacity="0.6"/>
<circle cx="466.88" cy="524.53" r="1.4" fill="#8a8a8a" fill-opacity="0.6"/>
<circle cx="466.88" cy="537.67" r="1.4" fill="#8a8a8a" fill-opacity="0.6"/>
<circle cx="475.9" cy="517.52" r="1.4" fill="#8a8a8a" fill-opacity="0.6"/>
<circle cx="475.9" cy="536.44" r="1.4" fill="#8a8a8a" fill-opacity="0.6"/>
<line x1="430.75" y1="580.59" x2="430.75" y2="583.22" stroke="#1a1a1a" stroke-width="0.9"/>
<line x1="429.15" y1="580.59" x2="432.36" y2="580.59" stroke="#1a1a1a" stroke-width="0.9"/>
<line x1="429.15" y1="583.22" x2="432.36" y2="583.22" stroke="#1a1a1a" stroke-width="0.9"/>
<ellipse cx="430.75" cy="581.9" rx="1.4" ry="1.4" fill="#111"/>
<line x1="439.78" y1="579.19" x2="439.78" y2="585.84" stroke="#1a1a1a" stroke-width="0.9"/>
<line x1="438.18" y1="579.19" x2="441.38" y2="579.19" stroke="#1a1a1a" stroke-width="0.9"/>
<line x1="438.18" y1="585.84" x2="441.38" y2="585.84" stroke="#1a1a1a" stroke-width="0.9"/>
<line x1="448.81" y1="572.35" x2="448.81" y2="578.84" stroke="#1a1a1a" stroke-width="0.9"/>
<line x1="447.21" y1="572.35" x2="450.42" y2="572.35" stroke="#1a1a1a" stroke-width="0.9"/>
<line x1="447.21" y1="578.84" x2="450.42" y2="578.84" stroke="#1a1a1a" stroke-width="0.9"/>
<line x1="457.84" y1="565.35" x2="457.84" y2="590.22" stroke="#1a1a1a" stroke-width="0.9"/>
<line x1="456.24" y1="565.35" x2="459.44" y2="565.35" stroke="#1a1a1a" stroke-width="0.9"/>
<line x1="456.24" y1="590.22" x2="459.44" y2="590.22" stroke="#1a1a1a" stroke-width="0.9"/>
<line x1="466.88" y1="548.18" x2="466.88" y2="561.32" stroke="#1a1a1a" stroke-width="0.9"/>
<line x1="465.27" y1="548.18" x2="468.48" y2="548.18" stroke="#1a1a1a" stroke-width="0.9"/>
<line x1="465.27" y1="561.32" x2="468.48" y2="561.32" stroke="#1a1a1a" stroke-width="0.9"/>
<line x1="475.9" y1="544.32" x2="475.9" y2="565.7" stroke="#1a1a1a" stroke-width="0.9"/>
<line x1="474.3" y1="544.32" x2="477.5" y2="544.32" stroke="#1a1a1a" stroke-width="0.9"/>
<line x1="474.3" y1="565.7" x2="477.5" y2="565.7" stroke="#1a1a1a" stroke-width="0.9"/>
<circle cx="490.9" cy="562.9" r="1.4" fill="#8a8a8a" fill-opacity="0.6"/>
<circle cx="490.9" cy="568.55" r="1.4" fill="#8a8a8a" fill-opacity="0.6"/>
<circle cx="490.9" cy="574.41" r="1.4" fill="#8a8a8a" fill-opacity="0.6"/>
<circle cx="499.93" cy="522.51" r="1.4" fill="#8a8a8a" fill-opacity="0.6"/>
<circle cx="499.93" cy="552.44" r="1.4" fill="#8a8a8a" fill-opacity="0.6"/>
<circle cx="499.93" cy="576.5" r="1.4" fill="#8a8a8a" fill-opacity="0.6"/>
<circle cx="508.96" cy="470.18" r="1.4" fill="#8a8a8a" fill-opacity="0.6"/>
<circle cx="508.96" cy="516.86" r="1.4" fill="#8a8a8a" fill-opacity="0.6"/>
<circle cx="508.96" cy="543.02" r="1.4" fill="#8a8a8a" fill-opacity="0.6"/>
<circle cx="508.96" cy="567.09" r="1.4" fill="#8a8a8a" fill-opacity="0.6"/>
<circle cx="508.96" cy="573.99" r="1.4" fill="#8a8a8a" fill-opacity="0.6"/>
<circle cx="517.99" cy="464.53" r="1.4" fill="#8a8a8a" fill-opacity="0.6"/>
<circle cx="517.99" cy="485.46" r="1.4" fill="#8a8a8a" fill-opacity="0.6"/>
<circle cx="517.99" cy="501.16" r="1.4" fill="#8a8a8a" fill-opacity="0.6"/>
<circle cx="517.99" cy="515.81" r="1.4" fill="#8a8a8a" fill-opacity="0.6"/>
<circle cx="527.01" cy="498.02" r="1.4" fill="#8a8a8a" fill-opacity="0.6"/>
<circle cx="527.01" cy="500.74" r="1.4" fill="#8a8a8a" fill-opacity="0.6"/>
<circle cx="527.01" cy="545.11" r="1.4" fill="#8a8a8a" fill-opacity="0.6"/>
<circle cx="536.05" cy="453.02" r="1.4" fill="#8a8a8a" fill-opacity="0.6"/>
<circle cx="536.05" cy="463.49" r="1.4" fill="#8a8a8a" fill-opacity="0.6"/>
<circle cx="536.05" cy="473.95" r="1.4" fill="#8a8a8a" fill-opacity="0.6"/>
<circle cx="536.05" cy="503.25" r="1.4" fill="#8a8a8a" fill-opacity="0.6"/>
<circle cx="536.05" cy="520" r="1.4" fill="#8a8a8a" fill-opacity="0.6"/>
<circle cx="536.05" cy="532.55" r="1.4" fill="#8a8a8a" fill-opacity="0.6"/>
<line x1="490.9" y1="573.37" x2="490.9" y2="576.5" stroke="#1a1a1a" stroke-width="0.9"/>
<line x1="489.3" y1="573.37" x2="492.5" y2="573.37" stroke="#1a1a1a" stroke-width="0.9"/>
<line x1="489.3" y1="576.5" x2="492.5" y2="576.5" stroke="#1a1a1a" stroke-width="0.9"/>
<ellipse cx="490.9" cy="574.94" rx="1.4" ry="1.57" fill="#111"/>
<line x1="499.93" y1="556.2" x2="499.93" y2="569.81" stroke="#1a1a1a" stroke-width="0.9"/>
<line x1="498.32" y1="556.2" x2="501.53" y2="556.2" stroke="#1a1a1a" stroke-width="0.9"/>
<line x1="498.32" y1="569.81" x2="501.53" y2="569.81" stroke="#1a1a1a" stroke-width="0.9"/>
<line x1="508.96" y1="536.32" x2="508.96" y2="561.44" stroke="#1a1a1a" stroke-width="0.9"/>
<line x1="507.36" y1="536.32" x2="510.56" y2="536.32" stroke="#1a1a1a" stroke-width="0.9"/>
<line x1="507.36" y1="561.44" x2="510.56" y2="561.44" stroke="#1a1a1a" stroke-width="0.9"/>
<line x1="517.99" y1="497.39" x2="517.99" y2="547.2" stroke="#1a1a1a" stroke-width="0.9"/>
<line x1="516.38" y1="497.39" x2="519.59" y2="497.39" stroke="#1a1a1a" stroke-width="0.9"/>
<line x1="516.38" y1="547.2" x2="519.59" y2="547.2" stroke="#1a1a1a" stroke-width="0.9"/>
<line x1="527.01" y1="509.53" x2="527.01" y2="526.27" stroke="#1a1a1a" stroke-width="0.9"/>
<line x1="525.41" y1="509.53" x2="528.62" y2="509.53" stroke="#1a1a1a" stroke-width="0.9"/>
<line x1="525.41" y1="526.27" x2="528.62" y2="526.27" stroke="#1a1a1a" stroke-width="0.9"/>
<line x1="536.05" y1="470.18" x2="536.05" y2="486.51" stroke="#1a1a1a" stroke-width="0.9"/>
<line x1="534.45" y1="470.18" x2="537.65" y2="470.18" stroke="#1a1a1a" stroke-width="0.9"/>
<line x1="534.45" y1="486.51" x2="537.65" y2="486.51" stroke="#1a1a1a" stroke-width="0.9"/>
<circle cx="551.03" cy="549.22" r="1.4" fill="#8a8a8a" fill-opacity="0.6"/>
<circle cx="551.03" cy="555.24" r="1.4" fill="#8a8a8a" fill-opacity="0.6"/>
<circle cx="560.06" cy="503.46" r="1.4" fill="#8a8a8a" fill-opacity="0.6"/>
<circle cx="560.06" cy="514.78" r="1.4" fill="#8a8a8a" fill-opacity="0.6"/>
<circle cx="560.06" cy="550.42" r="1.4" fill="#8a8a8a" fill-opacity="0.6"/>
<circle cx="560.06" cy="555.24" r="1.4" fill="#8a8a8a" fill-opacity="0.6"/>
<circle cx="569.09" cy="464.92" r="1.4" fill="#8a8a8a" fill-opacity="0.6"/>
<circle cx="569.09" cy="546.81" r="1.4" fill="#8a8a8a" fill-opacity="0.6"/>
<circle cx="578.12" cy="454.81" r="1.4" fill="#8a8a8a" fill-opacity="0.6"/>
<circle cx="578.12" cy="464.92" r="1.4" fill="#8a8a8a" fill-opacity="0.6"/>
<circle cx="587.15" cy="474.08" r="1.4" fill="#8a8a8a" fill-opacity="0.6"/>
<circle cx="587.15" cy="486.6" r="1.4" fill="#8a8a8a" fill-opacity="0.6"/>
<circle cx="596.18" cy="450.47" r="1.4" fill="#8a8a8a" fill-opacity="0.6"/>
<circle cx="596.18" cy="473.35" r="1.4" fill="#8a8a8a" fill-opacity="0.6"/>
<line x1="551.03" y1="559.58" x2="551.03" y2="569.21" stroke="#1a1a1a" stroke-width="0.9"/>
<line x1="549.43" y1="559.58" x2="552.63" y2="559.58" stroke="#1a1a1a" stroke-width="0.9"/>
<line x1="549.43" y1="569.21" x2="552.63" y2="569.21" stroke="#1a1a1a" stroke-width="0.9"/>
<line x1="560.06" y1="521.04" x2="560.06" y2="548.02" stroke="#1a1a1a" stroke-width="0.9"/>
<line x1="558.46" y1="521.04" x2="561.66" y2="521.04" stroke="#1a1a1a" stroke-width="0.9"/>
<line x1="558.46" y1="548.02" x2="561.66" y2="548.02" stroke="#1a1a1a" stroke-width="0.9"/>
<line x1="569.09" y1="473.35" x2="569.09" y2="511.41" stroke="#1a1a1a" stroke-width="0.9"/>
<line x1="567.49" y1="473.35" x2="570.69" y2="473.35" stroke="#1a1a1a" stroke-width="0.9"/>
<line x1="567.49" y1="511.41" x2="570.69" y2="511.41" stroke="#1a1a1a" stroke-width="0.9"/>
<line x1="578.12" y1="461.31" x2="578.12" y2="482.5" stroke="#1a1a1a" stroke-width="0.9"/>
<line x1="576.52" y1="461.31" x2="579.73" y2="461.31" stroke="#1a1a1a" stroke-width="0.9"/>
<line x1="576.52" y1="482.5" x2="579.73" y2="482.5" stroke="#1a1a1a" stroke-width="0.9"/>
<line x1="587.15" y1="493.82" x2="587.15" y2="497.44" stroke="#1a1a1a" stroke-width="0.9"/>
<line x1="585.55" y1="493.82" x2="588.75" y2="493.82" stroke="#1a1a1a" stroke-width="0.9"/>
<line x1="585.55" y1="497.44" x2="588.75" y2="497.44" stroke="#1a1a1a" stroke-width="0.9"/>
<ellipse cx="587.15" cy="495.63" rx="1.4" ry="1.81" fill="#111"/>
<line x1="596.18" y1="450.47" x2="596.18" y2="463.72" stroke="#1a1a1a" stroke-width="0.9"/>
<line x1="594.58" y1="450.47" x2="597.78" y2="450.47" stroke="#1a1a1a" stroke-width="0.9"/>
<line x1="594.58" y1="463.72" x2="597.78" y2="463.72" stroke="#1a1a1a" stroke-width="0.9"/>
<line x1="365.6" y1="443.8" x2="365.6" y2="596.5" stroke="#666" stroke-width="1"/>
<line x1="365.6" y1="596.5" x2="600.7" y2="596.5" stroke="#555" stroke-width="1.3"/>
<text transform="translate(358.9 599) scale(0.9 1)" font-size="9" fill="#262626" text-anchor="end">0</text>
<text transform="translate(358.9 560.95) scale(0.9 1)" font-size="9" fill="#262626" text-anchor="end">25</text>
<text transform="translate(358.9 522.9) scale(0.9 1)" font-size="9" fill="#262626" text-anchor="end">50</text>
<text transform="translate(358.9 484.85) scale(0.9 1)" font-size="9" fill="#262626" text-anchor="end">75</text>
<text transform="translate(358.9 446.8) scale(0.9 1)" font-size="9" fill="#262626" text-anchor="end">100</text>
<text transform="translate(393.19 609.4) scale(0.9 1)" font-size="9" fill="#262626" text-anchor="middle">1.5</text>
<text transform="translate(453.33 609.4) scale(0.9 1)" font-size="9" fill="#262626" text-anchor="middle">2</text>
<text transform="translate(513.47 609.4) scale(0.9 1)" font-size="9" fill="#262626" text-anchor="middle">3</text>
<text transform="translate(573.61 609.4) scale(0.9 1)" font-size="9" fill="#262626" text-anchor="middle">4</text>
<text x="351.9" y="424.4" font-size="9" fill="#222" stroke="#222" text-anchor="start">e</text>
<text x="365.8" y="438.4" font-size="9.6" fill="#262626" stroke="#262626" text-anchor="start">Pulses</text>
<text x="614.4" y="458.9" font-size="9" fill="#262626" stroke="#262626" text-anchor="start">Crop (median)</text>
<rect x="614.9" y="464.9" width="11.5" height="11.6" fill="#F2C6D0"/>
<text x="631.3" y="473.7" font-size="7.75" fill="#262626" stroke="#262626" text-anchor="start">Other pulses</text>
<rect x="614.9" y="478.75" width="11.5" height="11.6" fill="#DE9CAC"/>
<text x="631.3" y="487.55" font-size="7.75" fill="#262626" stroke="#262626" text-anchor="start">Bean</text>
<rect x="614.9" y="492.6" width="11.5" height="11.6" fill="#CF7088"/>
<text x="631.3" y="501.4" font-size="7.75" fill="#262626" stroke="#262626" text-anchor="start">Chickpea</text>
<rect x="614.9" y="506.45" width="11.5" height="11.6" fill="#B8506A"/>
<text x="631.3" y="515.25" font-size="7.75" fill="#262626" stroke="#262626" text-anchor="start">Pigeon pea</text>
<rect x="614.9" y="520.3" width="11.5" height="11.6" fill="#8A2C48"/>
<text x="631.3" y="529.1" font-size="7.75" fill="#262626" stroke="#262626" text-anchor="start">Lentil</text>
<rect x="614.9" y="534.15" width="11.5" height="11.6" fill="#52142A"/>
<text x="631.3" y="542.95" font-size="7.75" fill="#262626" stroke="#262626" text-anchor="start">Cowpea</text>
<line x1="618.3" y1="554.8" x2="618.3" y2="574.5" stroke="#555" stroke-width="1"/>
<line x1="617" y1="554.8" x2="619.6" y2="554.8" stroke="#555" stroke-width="1"/>
<line x1="617" y1="574.5" x2="619.6" y2="574.5" stroke="#555" stroke-width="1"/>
<text x="623.6" y="563.7" font-size="8.2" fill="#262626" stroke="#262626">25<tspan font-size="5.41" dy="-3.2">th</tspan><tspan dy="3.2"> and 75</tspan><tspan font-size="5.41" dy="-3.2">th</tspan></text>
<text x="623.6" y="573.3" font-size="8.2" fill="#262626" stroke="#262626" text-anchor="start">percentile</text>
<circle cx="618.3" cy="586" r="1.8" fill="#b0b0b0"/>
<text x="623.6" y="587.8" font-size="8.2" fill="#262626" stroke="#262626" text-anchor="start">Individual GCMs</text>
<line x1="24.5" y1="761.17" x2="259.7" y2="761.17" stroke="#d4d4d4" stroke-width="1"/>
<line x1="24.5" y1="723.25" x2="259.7" y2="723.25" stroke="#d4d4d4" stroke-width="1"/>
<line x1="24.5" y1="685.33" x2="259.7" y2="685.33" stroke="#d4d4d4" stroke-width="1"/>
<line x1="24.5" y1="647.4" x2="259.7" y2="647.4" stroke="#d4d4d4" stroke-width="1"/>
<rect x="24.5" y="790.45" width="10.8" height="8.65" fill="#F0A8CC"/>
<rect x="35.3" y="788.18" width="10.8" height="10.92" fill="#C86A9C"/>
<rect x="46.1" y="780.29" width="10.8" height="18.81" fill="#8A2A6A"/>
<rect x="56.9" y="788.18" width="10.8" height="10.92" fill="#5E1648"/>
<rect x="67.7" y="769.82" width="10.8" height="29.28" fill="#2E0A20"/>
<rect x="84.9" y="782.87" width="10.8" height="16.23" fill="#F0A8CC"/>
<rect x="95.7" y="784.08" width="10.8" height="15.02" fill="#C86A9C"/>
<rect x="106.5" y="768.15" width="10.8" height="30.95" fill="#8A2A6A"/>
<rect x="117.3" y="768.61" width="10.8" height="30.49" fill="#5E1648"/>
<rect x="128.1" y="729.92" width="10.8" height="69.18" fill="#2E0A20"/>
<rect x="145.3" y="773.61" width="10.8" height="25.49" fill="#F0A8CC"/>
<rect x="156.1" y="771.19" width="10.8" height="27.91" fill="#C86A9C"/>
<rect x="166.9" y="727.65" width="10.8" height="71.45" fill="#8A2A6A"/>
<rect x="177.7" y="722.49" width="10.8" height="76.61" fill="#5E1648"/>
<rect x="188.5" y="670" width="10.8" height="129.1" fill="#2E0A20"/>
<rect x="205.7" y="768.76" width="10.8" height="30.34" fill="#F0A8CC"/>
<rect x="216.5" y="756.78" width="10.8" height="42.32" fill="#C86A9C"/>
<rect x="227.3" y="707.62" width="10.8" height="91.48" fill="#8A2A6A"/>
<rect x="238.1" y="693.97" width="10.8" height="105.13" fill="#5E1648"/>
<rect x="248.9" y="651.5" width="10.8" height="147.6" fill="#2E0A20"/>
<circle cx="29.9" cy="783.6" r="1.4" fill="#8a8a8a" fill-opacity="0.6"/>
<circle cx="29.9" cy="793.21" r="1.4" fill="#8a8a8a" fill-opacity="0.6"/>
<circle cx="40.7" cy="780.95" r="1.4" fill="#8a8a8a" fill-opacity="0.6"/>
<circle cx="51.5" cy="771.34" r="1.4" fill="#8a8a8a" fill-opacity="0.6"/>
<circle cx="62.3" cy="773.79" r="1.4" fill="#8a8a8a" fill-opacity="0.6"/>
<circle cx="73.1" cy="737.01" r="1.4" fill="#8a8a8a" fill-opacity="0.6"/>
<circle cx="73.1" cy="759.49" r="1.4" fill="#8a8a8a" fill-opacity="0.6"/>
<line x1="29.9" y1="787.08" x2="29.9" y2="790.14" stroke="#1a1a1a" stroke-width="0.9"/>
<line x1="28.3" y1="787.08" x2="31.5" y2="787.08" stroke="#1a1a1a" stroke-width="0.9"/>
<line x1="28.3" y1="790.14" x2="31.5" y2="790.14" stroke="#1a1a1a" stroke-width="0.9"/>
<ellipse cx="29.9" cy="788.61" rx="1.4" ry="1.53" fill="#111"/>
<line x1="40.7" y1="785.65" x2="40.7" y2="790.14" stroke="#1a1a1a" stroke-width="0.9"/>
<line x1="39.1" y1="785.65" x2="42.3" y2="785.65" stroke="#1a1a1a" stroke-width="0.9"/>
<line x1="39.1" y1="790.14" x2="42.3" y2="790.14" stroke="#1a1a1a" stroke-width="0.9"/>
<ellipse cx="40.7" cy="787.89" rx="1.4" ry="2.25" fill="#111"/>
<line x1="51.5" y1="775.84" x2="51.5" y2="781.97" stroke="#1a1a1a" stroke-width="0.9"/>
<line x1="49.9" y1="775.84" x2="53.1" y2="775.84" stroke="#1a1a1a" stroke-width="0.9"/>
<line x1="49.9" y1="781.97" x2="53.1" y2="781.97" stroke="#1a1a1a" stroke-width="0.9"/>
<line x1="62.3" y1="782.99" x2="62.3" y2="791.16" stroke="#1a1a1a" stroke-width="0.9"/>
<line x1="60.7" y1="782.99" x2="63.9" y2="782.99" stroke="#1a1a1a" stroke-width="0.9"/>
<line x1="60.7" y1="791.16" x2="63.9" y2="791.16" stroke="#1a1a1a" stroke-width="0.9"/>
<line x1="73.1" y1="762.55" x2="73.1" y2="773.79" stroke="#1a1a1a" stroke-width="0.9"/>
<line x1="71.5" y1="762.55" x2="74.7" y2="762.55" stroke="#1a1a1a" stroke-width="0.9"/>
<line x1="71.5" y1="773.79" x2="74.7" y2="773.79" stroke="#1a1a1a" stroke-width="0.9"/>
<circle cx="90.3" cy="779.92" r="1.4" fill="#8a8a8a" fill-opacity="0.6"/>
<circle cx="101.1" cy="771.34" r="1.4" fill="#8a8a8a" fill-opacity="0.6"/>
<circle cx="101.1" cy="777.88" r="1.4" fill="#8a8a8a" fill-opacity="0.6"/>
<circle cx="111.9" cy="749.27" r="1.4" fill="#8a8a8a" fill-opacity="0.6"/>
<circle cx="111.9" cy="759.49" r="1.4" fill="#8a8a8a" fill-opacity="0.6"/>
<circle cx="122.7" cy="740.68" r="1.4" fill="#8a8a8a" fill-opacity="0.6"/>
<circle cx="122.7" cy="759.08" r="1.4" fill="#8a8a8a" fill-opacity="0.6"/>
<circle cx="133.5" cy="708.8" r="1.4" fill="#8a8a8a" fill-opacity="0.6"/>
<circle cx="133.5" cy="719.63" r="1.4" fill="#8a8a8a" fill-opacity="0.6"/>
<line x1="90.3" y1="779.31" x2="90.3" y2="782.99" stroke="#1a1a1a" stroke-width="0.9"/>
<line x1="88.7" y1="779.31" x2="91.9" y2="779.31" stroke="#1a1a1a" stroke-width="0.9"/>
<line x1="88.7" y1="782.99" x2="91.9" y2="782.99" stroke="#1a1a1a" stroke-width="0.9"/>
<ellipse cx="90.3" cy="781.15" rx="1.4" ry="1.84" fill="#111"/>
<line x1="101.1" y1="782.99" x2="101.1" y2="785.03" stroke="#1a1a1a" stroke-width="0.9"/>
<line x1="99.5" y1="782.99" x2="102.7" y2="782.99" stroke="#1a1a1a" stroke-width="0.9"/>
<line x1="99.5" y1="785.03" x2="102.7" y2="785.03" stroke="#1a1a1a" stroke-width="0.9"/>
<ellipse cx="101.1" cy="784.01" rx="1.4" ry="1.4" fill="#111"/>
<line x1="111.9" y1="758.47" x2="111.9" y2="772.77" stroke="#1a1a1a" stroke-width="0.9"/>
<line x1="110.3" y1="758.47" x2="113.5" y2="758.47" stroke="#1a1a1a" stroke-width="0.9"/>
<line x1="110.3" y1="772.77" x2="113.5" y2="772.77" stroke="#1a1a1a" stroke-width="0.9"/>
<line x1="122.7" y1="758.47" x2="122.7" y2="775.84" stroke="#1a1a1a" stroke-width="0.9"/>
<line x1="121.1" y1="758.47" x2="124.3" y2="758.47" stroke="#1a1a1a" stroke-width="0.9"/>
<line x1="121.1" y1="775.84" x2="124.3" y2="775.84" stroke="#1a1a1a" stroke-width="0.9"/>
<line x1="133.5" y1="716.16" x2="133.5" y2="726.79" stroke="#1a1a1a" stroke-width="0.9"/>
<line x1="131.9" y1="716.16" x2="135.1" y2="716.16" stroke="#1a1a1a" stroke-width="0.9"/>
<line x1="131.9" y1="726.79" x2="135.1" y2="726.79" stroke="#1a1a1a" stroke-width="0.9"/>
<circle cx="150.7" cy="769.18" r="1.4" fill="#8a8a8a" fill-opacity="0.6"/>
<circle cx="161.5" cy="752.72" r="1.4" fill="#8a8a8a" fill-opacity="0.6"/>
<circle cx="161.5" cy="757.21" r="1.4" fill="#8a8a8a" fill-opacity="0.6"/>
<circle cx="172.3" cy="710.22" r="1.4" fill="#8a8a8a" fill-opacity="0.6"/>
<circle cx="172.3" cy="718.3" r="1.4" fill="#8a8a8a" fill-opacity="0.6"/>
<circle cx="172.3" cy="748.23" r="1.4" fill="#8a8a8a" fill-opacity="0.6"/>
<circle cx="183.1" cy="695.25" r="1.4" fill="#8a8a8a" fill-opacity="0.6"/>
<circle cx="183.1" cy="752.72" r="1.4" fill="#8a8a8a" fill-opacity="0.6"/>
<circle cx="193.9" cy="647.96" r="1.4" fill="#8a8a8a" fill-opacity="0.6"/>
<circle cx="193.9" cy="653.94" r="1.4" fill="#8a8a8a" fill-opacity="0.6"/>
<line x1="150.7" y1="771.57" x2="150.7" y2="775.17" stroke="#1a1a1a" stroke-width="0.9"/>
<line x1="149.1" y1="771.57" x2="152.3" y2="771.57" stroke="#1a1a1a" stroke-width="0.9"/>
<line x1="149.1" y1="775.17" x2="152.3" y2="775.17" stroke="#1a1a1a" stroke-width="0.9"/>
<ellipse cx="150.7" cy="773.37" rx="1.4" ry="1.8" fill="#111"/>
<line x1="161.5" y1="766.19" x2="161.5" y2="773.07" stroke="#1a1a1a" stroke-width="0.9"/>
<line x1="159.9" y1="766.19" x2="163.1" y2="766.19" stroke="#1a1a1a" stroke-width="0.9"/>
<line x1="159.9" y1="773.07" x2="163.1" y2="773.07" stroke="#1a1a1a" stroke-width="0.9"/>
<line x1="172.3" y1="716.8" x2="172.3" y2="734.76" stroke="#1a1a1a" stroke-width="0.9"/>
<line x1="170.7" y1="716.8" x2="173.9" y2="716.8" stroke="#1a1a1a" stroke-width="0.9"/>
<line x1="170.7" y1="734.76" x2="173.9" y2="734.76" stroke="#1a1a1a" stroke-width="0.9"/>
<line x1="183.1" y1="710.81" x2="183.1" y2="727.28" stroke="#1a1a1a" stroke-width="0.9"/>
<line x1="181.5" y1="710.81" x2="184.7" y2="710.81" stroke="#1a1a1a" stroke-width="0.9"/>
<line x1="181.5" y1="727.28" x2="184.7" y2="727.28" stroke="#1a1a1a" stroke-width="0.9"/>
<line x1="193.9" y1="662.33" x2="193.9" y2="668.91" stroke="#1a1a1a" stroke-width="0.9"/>
<line x1="192.3" y1="662.33" x2="195.5" y2="662.33" stroke="#1a1a1a" stroke-width="0.9"/>
<line x1="192.3" y1="668.91" x2="195.5" y2="668.91" stroke="#1a1a1a" stroke-width="0.9"/>
<circle cx="211.1" cy="761.7" r="1.4" fill="#8a8a8a" fill-opacity="0.6"/>
<circle cx="211.1" cy="776.06" r="1.4" fill="#8a8a8a" fill-opacity="0.6"/>
<circle cx="221.9" cy="746.73" r="1.4" fill="#8a8a8a" fill-opacity="0.6"/>
<circle cx="221.9" cy="751.22" r="1.4" fill="#8a8a8a" fill-opacity="0.6"/>
<circle cx="232.7" cy="693.45" r="1.4" fill="#8a8a8a" fill-opacity="0.6"/>
<circle cx="232.7" cy="697.35" r="1.4" fill="#8a8a8a" fill-opacity="0.6"/>
<circle cx="243.5" cy="673.4" r="1.4" fill="#8a8a8a" fill-opacity="0.6"/>
<circle cx="243.5" cy="679.39" r="1.4" fill="#8a8a8a" fill-opacity="0.6"/>
<circle cx="254.3" cy="646.46" r="1.4" fill="#8a8a8a" fill-opacity="0.6"/>
<line x1="211.1" y1="764.69" x2="211.1" y2="770.68" stroke="#1a1a1a" stroke-width="0.9"/>
<line x1="209.5" y1="764.69" x2="212.7" y2="764.69" stroke="#1a1a1a" stroke-width="0.9"/>
<line x1="209.5" y1="770.68" x2="212.7" y2="770.68" stroke="#1a1a1a" stroke-width="0.9"/>
<line x1="221.9" y1="751.22" x2="221.9" y2="759.3" stroke="#1a1a1a" stroke-width="0.9"/>
<line x1="220.3" y1="751.22" x2="223.5" y2="751.22" stroke="#1a1a1a" stroke-width="0.9"/>
<line x1="220.3" y1="759.3" x2="223.5" y2="759.3" stroke="#1a1a1a" stroke-width="0.9"/>
<line x1="232.7" y1="698.84" x2="232.7" y2="710.81" stroke="#1a1a1a" stroke-width="0.9"/>
<line x1="231.1" y1="698.84" x2="234.3" y2="698.84" stroke="#1a1a1a" stroke-width="0.9"/>
<line x1="231.1" y1="710.81" x2="234.3" y2="710.81" stroke="#1a1a1a" stroke-width="0.9"/>
<line x1="243.5" y1="680.88" x2="243.5" y2="701.83" stroke="#1a1a1a" stroke-width="0.9"/>
<line x1="241.9" y1="680.88" x2="245.1" y2="680.88" stroke="#1a1a1a" stroke-width="0.9"/>
<line x1="241.9" y1="701.83" x2="245.1" y2="701.83" stroke="#1a1a1a" stroke-width="0.9"/>
<line x1="254.3" y1="646.46" x2="254.3" y2="652.45" stroke="#1a1a1a" stroke-width="0.9"/>
<line x1="252.7" y1="646.46" x2="255.9" y2="646.46" stroke="#1a1a1a" stroke-width="0.9"/>
<line x1="252.7" y1="652.45" x2="255.9" y2="652.45" stroke="#1a1a1a" stroke-width="0.9"/>
<line x1="24.5" y1="646.9" x2="24.5" y2="799.1" stroke="#666" stroke-width="1"/>
<line x1="24.5" y1="799.1" x2="259.7" y2="799.1" stroke="#555" stroke-width="1.3"/>
<text transform="translate(18.9 801.6) scale(0.9 1)" font-size="9" fill="#262626" text-anchor="end">0</text>
<text transform="translate(18.9 763.67) scale(0.9 1)" font-size="9" fill="#262626" text-anchor="end">25</text>
<text transform="translate(18.9 725.75) scale(0.9 1)" font-size="9" fill="#262626" text-anchor="end">50</text>
<text transform="translate(18.9 687.83) scale(0.9 1)" font-size="9" fill="#262626" text-anchor="end">75</text>
<text transform="translate(18.9 649.9) scale(0.9 1)" font-size="9" fill="#262626" text-anchor="end">100</text>
<text transform="translate(51.5 810.9) scale(0.9 1)" font-size="9" fill="#262626" text-anchor="middle">1.5</text>
<text transform="translate(111.9 810.9) scale(0.9 1)" font-size="9" fill="#262626" text-anchor="middle">2</text>
<text transform="translate(172.3 810.9) scale(0.9 1)" font-size="9" fill="#262626" text-anchor="middle">3</text>
<text transform="translate(232.7 810.9) scale(0.9 1)" font-size="9" fill="#262626" text-anchor="middle">4</text>
<text x="12.3" y="624.7" font-size="9" fill="#222" stroke="#222" text-anchor="start">f</text>
<text x="25.4" y="641.3" font-size="9.6" fill="#262626" stroke="#262626" text-anchor="start">Starchy roots</text>
<text x="272.6" y="668.6" font-size="9.9" fill="#262626" stroke="#262626" text-anchor="start">Crop (median)</text>
<rect x="273.2" y="673.9" width="11.4" height="11" fill="#F0A8CC"/>
<text x="290.7" y="683.5" font-size="8.4" fill="#262626" stroke="#262626" text-anchor="start">Sweet potato</text>
<rect x="273.2" y="687.15" width="11.4" height="11" fill="#C86A9C"/>
<text x="290.7" y="696.75" font-size="8.4" fill="#262626" stroke="#262626" text-anchor="start">Potato</text>
<rect x="273.2" y="700.4" width="11.4" height="11" fill="#8A2A6A"/>
<text x="290.7" y="710" font-size="8.4" fill="#262626" stroke="#262626" text-anchor="start">Other roots</text>
<rect x="273.2" y="713.65" width="11.4" height="11" fill="#5E1648"/>
<text x="290.7" y="723.25" font-size="8.4" fill="#262626" stroke="#262626" text-anchor="start">Cassava</text>
<rect x="273.2" y="726.9" width="11.4" height="11" fill="#2E0A20"/>
<text x="290.7" y="736.5" font-size="8.4" fill="#262626" stroke="#262626" text-anchor="start">Yams</text>
<line x1="278.3" y1="748.2" x2="278.3" y2="767.7" stroke="#555" stroke-width="1"/>
<line x1="277" y1="748.2" x2="279.6" y2="748.2" stroke="#555" stroke-width="1"/>
<line x1="277" y1="767.7" x2="279.6" y2="767.7" stroke="#555" stroke-width="1"/>
<text x="283.1" y="756.4" font-size="8.4" fill="#262626" stroke="#262626">25<tspan font-size="5.54" dy="-3.2">th</tspan><tspan dy="3.2"> and 75</tspan><tspan font-size="5.54" dy="-3.2">th</tspan></text>
<text x="283.1" y="766.9" font-size="8.4" fill="#262626" stroke="#262626" text-anchor="start">percentile</text>
<circle cx="278.3" cy="779.2" r="1.8" fill="#b0b0b0"/>
<text x="283.1" y="781.8" font-size="8.4" fill="#262626" stroke="#262626" text-anchor="start">Individual GCMs</text>
<text x="0" y="0" font-size="8.85" fill="#222" text-anchor="middle" transform="translate(168.9 96) rotate(-90)">Share of production outside the SCS (%)</text>
<ellipse cx="202.45" cy="169.93" rx="1.6" ry="2.33" fill="#111"/>
<ellipse cx="213.35" cy="168.18" rx="1.6" ry="1.60" fill="#111"/>
<ellipse cx="224.25" cy="164.67" rx="1.6" ry="1.60" fill="#111"/>
<ellipse cx="235.15" cy="167.30" rx="1.6" ry="1.60" fill="#111"/>
<text x="313.8" y="207.7" font-size="8.84" fill="#222" text-anchor="middle">Global warming (°C )</text>
</svg></body></html>
